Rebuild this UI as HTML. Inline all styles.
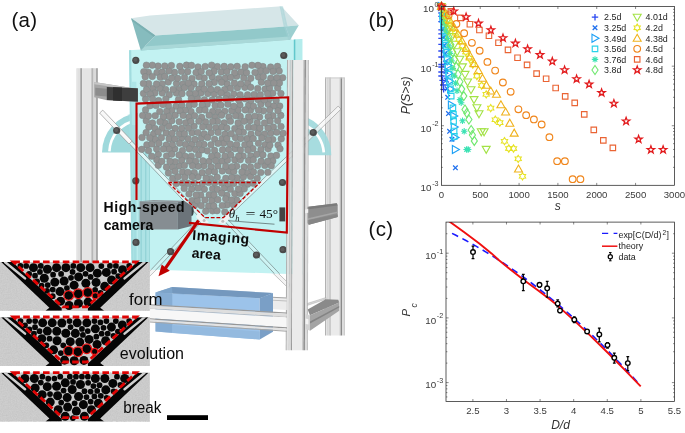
<!DOCTYPE html>
<html><head><meta charset="utf-8"><title>Figure</title>
<style>html,body{margin:0;padding:0;background:#fff}svg{display:block}</style></head>
<body>
<svg width="685" height="433" viewBox="0 0 685 433">
<rect width="685" height="433" fill="#fff"/>
<polygon points="325,77.5 325.98,77.5 325.98,335.4 325,335.4" fill="#b0b0b0"/><polygon points="325.98,77.5 327.55,77.5 327.55,335.4 325.98,335.4" fill="#e2e2e2"/><polygon points="327.55,77.5 328.33,77.5 328.33,335.4 327.55,335.4" fill="#bcbcbc"/><polygon points="328.33,77.5 329.7,77.5 329.7,335.4 328.33,335.4" fill="#d6d6d6"/><polygon points="329.7,77.5 330.68,77.5 330.68,335.4 329.7,335.4" fill="#9c9c9c"/><polygon points="330.68,77.5 339.5,77.5 339.5,335.4 330.68,335.4" fill="#ebebeb"/><polygon points="339.5,77.5 340.68,77.5 340.68,335.4 339.5,335.4" fill="#c8c8c8"/><polygon points="340.68,77.5 342.05,77.5 342.05,335.4 340.68,335.4" fill="#8a8a8a"/><polygon points="342.05,77.5 344.01,77.5 344.01,335.4 342.05,335.4" fill="#dcdcdc"/><polygon points="344.01,77.5 344.6,77.5 344.6,335.4 344.01,335.4" fill="#aaaaaa"/>
<polygon points="325,77.5 344.6,77.5 344.6,78.4 325,78.4" fill="#c8c8c8"/>
<polygon points="306.5,207 336.8,203.2 337.7,205 337.7,217 308.8,224.8 306.5,222" fill="#8e8e8e"/>
<polygon points="306.5,207 336.8,203.2 337.4,205.4 306.8,209.5" fill="#7b7b7b"/>
<polygon points="307,218.6 337.6,211.6 337.6,213 307,220.2" fill="#a6a6a6"/>
<polygon points="306.5,220.6 337.7,214.6 337.7,217 308.8,224.8 306.5,222" fill="#868686"/>
<polygon points="307,303.5 326,297.5 326,299.2 307,305.5" fill="#d8d8d8" stroke="#a0a0a0" stroke-width="0.4"/>
<polygon points="307.6,309.5 325.8,299.2 338.3,299.8 339.2,302.5 310,315.2" fill="#8a8a8a"/>
<polygon points="310,315.2 339.2,302.5 339.2,310.8 310,330.8" fill="#a4a4a4"/>
<polygon points="310,321.6 339.2,305.9 339.2,307.5 310,323.6" fill="#848484"/>
<path d="M307.5 117.8A41.3 41.3 0 0 1 331.3 155.2L307.5 155.2Z" fill="#9fd9dc" fill-opacity="0.92"/>
<path d="M307.5 126.5A33 33 0 0 1 323.8 152.4" fill="none" stroke="#fff" stroke-width="2.8"/>
<polygon points="338.13,106.1 298.53,144.7 301.47,147.7 341.07,109.1" fill="#f8f8f8" stroke="#8a8a8a" stroke-width="0.55" fill-opacity="0.7"/>
<circle cx="313.3" cy="132.5" r="3.6" fill="#4a4a4a"/><circle cx="312.8" cy="132" r="1.98" fill="#5c5c5c"/>
<polygon points="76.6,68.2 77.45,68.2 77.45,263 76.6,263" fill="#cccccc"/><polygon points="77.45,68.2 80.22,68.2 80.22,263 77.45,263" fill="#e0e0e0"/><polygon points="80.22,68.2 82.14,68.2 82.14,263 80.22,263" fill="#a2a2a2"/><polygon points="82.14,68.2 91.3,68.2 91.3,263 82.14,263" fill="#e5e5e5"/><polygon points="91.3,68.2 93.64,68.2 93.64,263 91.3,263" fill="#b6b6b6"/><polygon points="93.64,68.2 95.98,68.2 95.98,263 93.64,263" fill="#dadada"/><polygon points="95.98,68.2 97.9,68.2 97.9,263 95.98,263" fill="#a8a8a8"/>
<path d="M102 152.6A40 40 0 0 1 138 112.8L138 152.6Z" fill="#9fd9dc"/>
<path d="M109.4 151.4A32.6 32.6 0 0 1 137 120.4" fill="none" stroke="#fff" stroke-width="2.6"/>
<polygon points="174.73,246.23 146.73,274.23 149.27,276.77 177.27,248.77" fill="#f4f4f4" stroke="#8c8c8c" stroke-width="0.5"/>
<polygon points="260.74,261.29 287.74,287.59 290.26,285.01 263.26,258.71" fill="#f4f4f4" stroke="#8c8c8c" stroke-width="0.5"/>
<clipPath id="cp"><polygon points="129,50.3 302.4,39 302.4,274.4 131.4,269"/></clipPath>
<polygon points="129,50.3 302.4,39 302.4,274.4 131.4,269" fill="#c2f2f2"/>
<g clip-path="url(#cp)">
<path d="M129.5 114A40 40 0 0 1 138 112.8L138 152.6L129.5 152.6Z" fill="#92d2d5"/>
<path d="M129.5 122.6A32.6 32.6 0 0 1 137 120.4" fill="none" stroke="#e4f6f6" stroke-width="2.6"/>
<polygon points="128.8,40 131.1,40 133.8,280 131.4,280" fill="#a2dcdf"/>
<polygon points="131.5,81.7 136.4,81.7 136.6,280 133.8,280" fill="#aee6e8"/>
<polygon points="132,125 136.4,125 136.6,280 133.8,280" fill="#a0dcdf" fill-opacity="0.8"/>
<rect x="137.6" y="151.5" width="12" height="130" fill="#ade3e5"/>
<rect x="140.6" y="151.5" width="1.1" height="130" fill="#8fd0d4"/>
<rect x="145.2" y="151.5" width="1.1" height="130" fill="#8fd0d4"/>
<rect x="149" y="151.5" width="0.9" height="130" fill="#98d6d8"/>
<rect x="293.8" y="30" width="1.8" height="250" fill="#62c8cc"/>
<rect x="295.6" y="30" width="7" height="250" fill="#b4ecec"/>
<polygon points="127.7,142.04 202.1,220.14 204.7,217.66 130.3,139.56" fill="#dff6f6" stroke="#6a7878" stroke-width="0.6"/>
<polygon points="292.36,151.1 221.96,218.1 224.44,220.7 294.84,153.7" fill="#dff6f6" stroke="#6a7878" stroke-width="0.6"/>
<polygon points="202.19,215.76 148.69,272.26 151.31,274.74 204.81,218.24" fill="#cdf4f4" stroke="#687474" stroke-width="0.6"/>
<polygon points="222.2,218.74 287.7,287.54 290.3,285.06 224.8,216.26" fill="#cdf4f4" stroke="#687474" stroke-width="0.6"/>
<polygon points="198.5,212 209,222.5 203,224.5 196,217" fill="#f0f4f4"/>
<polygon points="228.5,212 218,222.5 224,224.5 231,217" fill="#f0f4f4"/>
<circle cx="204.1" cy="220.4" r="1.5" fill="#bdbdbd"/><circle cx="222.8" cy="221.3" r="1.5" fill="#bdbdbd"/>
</g>
<polygon points="99.64,113.08 129.04,143.98 132.16,141.02 102.76,110.12" fill="#f8f8f8" stroke="#7c7c7c" stroke-width="0.55"/>
<circle cx="116.7" cy="130.5" r="3.6" fill="#4a4a4a"/><circle cx="116.2" cy="130" r="1.98" fill="#5c5c5c"/>
<circle cx="135.8" cy="60.3" r="3.6" fill="#4a4a4a"/><circle cx="135.3" cy="59.8" r="1.98" fill="#5c5c5c"/>
<circle cx="283.8" cy="55.5" r="3.6" fill="#4a4a4a"/><circle cx="283.3" cy="55" r="1.98" fill="#5c5c5c"/>
<circle cx="135.8" cy="180.8" r="3.6" fill="#4a4a4a"/><circle cx="135.3" cy="180.3" r="1.98" fill="#5c5c5c"/>
<circle cx="282.5" cy="182.5" r="3.6" fill="#4a4a4a"/><circle cx="282" cy="182" r="1.98" fill="#5c5c5c"/>
<circle cx="136" cy="242.4" r="3.6" fill="#4a4a4a"/><circle cx="135.5" cy="241.9" r="1.98" fill="#5c5c5c"/>
<circle cx="283" cy="249.7" r="3.6" fill="#4a4a4a"/><circle cx="282.5" cy="249.2" r="1.98" fill="#5c5c5c"/>
<circle cx="170.6" cy="251.7" r="3.6" fill="#4a4a4a"/><circle cx="170.1" cy="251.2" r="1.98" fill="#5c5c5c"/>
<circle cx="256.5" cy="255" r="3.6" fill="#4a4a4a"/><circle cx="256" cy="254.5" r="1.98" fill="#5c5c5c"/>
<g fill="#929292" stroke="#7c8686" stroke-width="0.5"><circle cx="201.85" cy="149.9" r="3.3"/><circle cx="270.79" cy="78.26" r="3.3"/><circle cx="210.63" cy="178.61" r="3.3"/><circle cx="182.53" cy="171.98" r="3.3"/><circle cx="168.42" cy="173" r="3.3"/><circle cx="221.89" cy="161.01" r="3.3"/><circle cx="207.84" cy="93.59" r="3.3"/><circle cx="215.88" cy="127.71" r="3.3"/><circle cx="244.84" cy="144.78" r="3.3"/><circle cx="200.71" cy="195.01" r="3.3"/><circle cx="201.41" cy="137.88" r="3.3"/><circle cx="145.55" cy="99.01" r="3.3"/><circle cx="236.67" cy="76.25" r="3.3"/><circle cx="247.08" cy="138.63" r="3.3"/><circle cx="230.74" cy="66.88" r="3.3"/><circle cx="192.05" cy="132.72" r="3.3"/><circle cx="258.44" cy="143.31" r="3.3"/><circle cx="197.4" cy="98.51" r="3.3"/><circle cx="227.48" cy="160.19" r="3.3"/><circle cx="185.73" cy="122.85" r="3.3"/><circle cx="166.18" cy="132.89" r="3.3"/><circle cx="224.98" cy="156" r="3.3"/><circle cx="165.65" cy="89.49" r="3.3"/><circle cx="204.37" cy="189.24" r="3.3"/><circle cx="247.3" cy="172.87" r="3.3"/><circle cx="152.86" cy="88.48" r="3.3"/><circle cx="182.49" cy="150.62" r="3.3"/><circle cx="263.49" cy="110.87" r="3.3"/><circle cx="245.02" cy="98.78" r="3.3"/><circle cx="243.75" cy="77.78" r="3.3"/><circle cx="218.97" cy="99.35" r="3.3"/><circle cx="233.76" cy="93.98" r="3.3"/><circle cx="270.95" cy="156.07" r="3.3"/><circle cx="146.85" cy="144.9" r="3.3"/><circle cx="236.67" cy="166.21" r="3.3"/><circle cx="264.59" cy="134.04" r="3.3"/><circle cx="215.31" cy="117.22" r="3.3"/><circle cx="176.46" cy="83.61" r="3.3"/><circle cx="239.92" cy="105.08" r="3.3"/><circle cx="262.89" cy="66.59" r="3.3"/><circle cx="258.24" cy="132.89" r="3.3"/><circle cx="218.4" cy="111.69" r="3.3"/><circle cx="224.4" cy="188.02" r="3.3"/><circle cx="277.5" cy="66.42" r="3.3"/><circle cx="270.72" cy="133.29" r="3.3"/><circle cx="209.06" cy="161.3" r="3.3"/><circle cx="280.88" cy="93.48" r="3.3"/><circle cx="185.22" cy="156.29" r="3.3"/><circle cx="250.03" cy="120.84" r="3.3"/><circle cx="187.66" cy="71.65" r="3.3"/><circle cx="221.34" cy="71.97" r="3.3"/><circle cx="191.99" cy="200.65" r="3.3"/><circle cx="176.08" cy="106.27" r="3.3"/><circle cx="279.71" cy="106.09" r="3.3"/><circle cx="273.38" cy="127.03" r="3.3"/><circle cx="238.08" cy="110.25" r="3.3"/><circle cx="243.4" cy="176.87" r="3.3"/><circle cx="260.75" cy="172.57" r="3.3"/><circle cx="254.14" cy="94.47" r="3.3"/><circle cx="171.77" cy="110.45" r="3.3"/><circle cx="212.19" cy="76.94" r="3.3"/><circle cx="182.83" cy="84.01" r="3.3"/><circle cx="185.47" cy="144.44" r="3.3"/><circle cx="152.51" cy="122.93" r="3.3"/><circle cx="226.78" cy="71.58" r="3.3"/><circle cx="250.49" cy="110.27" r="3.3"/><circle cx="204.39" cy="99.8" r="3.3"/><circle cx="198.84" cy="89.12" r="3.3"/><circle cx="191.72" cy="144.34" r="3.3"/><circle cx="208.59" cy="206.04" r="3.3"/><circle cx="267.97" cy="128.07" r="3.3"/><circle cx="145.59" cy="109.91" r="3.3"/><circle cx="207.15" cy="104.16" r="3.3"/><circle cx="158.34" cy="154.35" r="3.3"/><circle cx="272.92" cy="115.74" r="3.3"/><circle cx="234.78" cy="128.46" r="3.3"/><circle cx="268.27" cy="104.33" r="3.3"/><circle cx="237.38" cy="87.77" r="3.3"/><circle cx="198.01" cy="66.93" r="3.3"/><circle cx="214.65" cy="139.31" r="3.3"/><circle cx="205.55" cy="121.89" r="3.3"/><circle cx="228.82" cy="170.89" r="3.3"/><circle cx="235.04" cy="148.67" r="3.3"/><circle cx="272.78" cy="161.06" r="3.3"/><circle cx="194.79" cy="204.97" r="3.3"/><circle cx="227.08" cy="83.85" r="3.3"/><circle cx="181.58" cy="138.13" r="3.3"/><circle cx="278.1" cy="145.1" r="3.3"/><circle cx="189.28" cy="148.83" r="3.3"/><circle cx="175.23" cy="128.41" r="3.3"/><circle cx="225.76" cy="178.23" r="3.3"/><circle cx="264.78" cy="165.47" r="3.3"/><circle cx="217.42" cy="66.61" r="3.3"/><circle cx="151.95" cy="143.91" r="3.3"/><circle cx="241.66" cy="182.86" r="3.3"/><circle cx="148.82" cy="127.1" r="3.3"/><circle cx="228.33" cy="184.11" r="3.3"/><circle cx="178.94" cy="89.49" r="3.3"/><circle cx="224.18" cy="122.91" r="3.3"/><circle cx="203.9" cy="144.42" r="3.3"/><circle cx="224.86" cy="211.96" r="3.3"/><circle cx="258.15" cy="99.8" r="3.3"/><circle cx="214.34" cy="94.04" r="3.3"/><circle cx="169.28" cy="94.73" r="3.3"/><circle cx="179.1" cy="165.93" r="3.3"/><circle cx="203.9" cy="165.86" r="3.3"/><circle cx="189.24" cy="105.44" r="3.3"/><circle cx="204.23" cy="77.96" r="3.3"/><circle cx="208.57" cy="182.54" r="3.3"/><circle cx="225.35" cy="78.07" r="3.3"/><circle cx="240.23" cy="116.36" r="3.3"/><circle cx="157.01" cy="72.51" r="3.3"/><circle cx="272.75" cy="93.19" r="3.3"/><circle cx="197.32" cy="200.6" r="3.3"/><circle cx="156.6" cy="148.89" r="3.3"/><circle cx="244.81" cy="87.36" r="3.3"/><circle cx="166.5" cy="167.13" r="3.3"/><circle cx="217.48" cy="121.23" r="3.3"/><circle cx="142.09" cy="137.45" r="3.3"/><circle cx="166.68" cy="111.23" r="3.3"/><circle cx="268.19" cy="116.64" r="3.3"/><circle cx="282.64" cy="77.7" r="3.3"/><circle cx="195.49" cy="149.39" r="3.3"/><circle cx="190.98" cy="111.51" r="3.3"/><circle cx="158.09" cy="66.05" r="3.3"/><circle cx="181.8" cy="105.12" r="3.3"/><circle cx="194.2" cy="104.36" r="3.3"/><circle cx="181.68" cy="160.25" r="3.3"/><circle cx="191.72" cy="189.14" r="3.3"/><circle cx="234.76" cy="159.88" r="3.3"/><circle cx="198.82" cy="144.02" r="3.3"/><circle cx="277.69" cy="87.94" r="3.3"/><circle cx="250.59" cy="176.48" r="3.3"/><circle cx="198.05" cy="176.84" r="3.3"/><circle cx="257.49" cy="165.76" r="3.3"/><circle cx="258.45" cy="77.02" r="3.3"/><circle cx="265.09" cy="144.68" r="3.3"/><circle cx="202.28" cy="104.72" r="3.3"/><circle cx="162.25" cy="93.05" r="3.3"/><circle cx="212.6" cy="111.62" r="3.3"/><circle cx="198.9" cy="76.79" r="3.3"/><circle cx="214.58" cy="150.4" r="3.3"/><circle cx="221.65" cy="182.91" r="3.3"/><circle cx="194.06" cy="83.99" r="3.3"/><circle cx="217.41" cy="155.53" r="3.3"/><circle cx="202.37" cy="183.61" r="3.3"/><circle cx="198.03" cy="166.24" r="3.3"/><circle cx="185.18" cy="110.22" r="3.3"/><circle cx="194.12" cy="126.37" r="3.3"/><circle cx="202.18" cy="172.64" r="3.3"/><circle cx="224.76" cy="111.25" r="3.3"/><circle cx="280.78" cy="115.42" r="3.3"/><circle cx="200.95" cy="93" r="3.3"/><circle cx="270.11" cy="121.15" r="3.3"/><circle cx="181.49" cy="71.52" r="3.3"/><circle cx="260.31" cy="94.8" r="3.3"/><circle cx="146.17" cy="132.61" r="3.3"/><circle cx="161.42" cy="137.66" r="3.3"/><circle cx="257.17" cy="178.22" r="3.3"/><circle cx="209.21" cy="194.91" r="3.3"/><circle cx="269.42" cy="98.76" r="3.3"/><circle cx="168.22" cy="82.04" r="3.3"/><circle cx="186.45" cy="65.16" r="3.3"/><circle cx="260.44" cy="70.86" r="3.3"/><circle cx="277" cy="77.69" r="3.3"/><circle cx="211.67" cy="156.29" r="3.3"/><circle cx="143.51" cy="93.48" r="3.3"/><circle cx="162.2" cy="83.93" r="3.3"/><circle cx="254.99" cy="72.45" r="3.3"/><circle cx="259.62" cy="116.96" r="3.3"/><circle cx="240.41" cy="127.39" r="3.3"/><circle cx="248.62" cy="127.18" r="3.3"/><circle cx="148.54" cy="150.62" r="3.3"/><circle cx="243.42" cy="132.3" r="3.3"/><circle cx="155.01" cy="128.51" r="3.3"/><circle cx="178.94" cy="154.94" r="3.3"/><circle cx="247.55" cy="184.21" r="3.3"/><circle cx="248.59" cy="116.82" r="3.3"/><circle cx="197.76" cy="132.43" r="3.3"/><circle cx="226.89" cy="204.93" r="3.3"/><circle cx="230.35" cy="189.32" r="3.3"/><circle cx="240.12" cy="94.77" r="3.3"/><circle cx="237.05" cy="177.87" r="3.3"/><circle cx="261.12" cy="161.16" r="3.3"/><circle cx="146.65" cy="89.42" r="3.3"/><circle cx="195.24" cy="93.44" r="3.3"/><circle cx="188.92" cy="117.14" r="3.3"/><circle cx="227.85" cy="104.3" r="3.3"/><circle cx="196.16" cy="195.07" r="3.3"/><circle cx="174.79" cy="148.93" r="3.3"/><circle cx="162.16" cy="72.16" r="3.3"/><circle cx="189.61" cy="93.5" r="3.3"/><circle cx="234.63" cy="72.81" r="3.3"/><circle cx="238.13" cy="122.91" r="3.3"/><circle cx="146.28" cy="120.75" r="3.3"/><circle cx="250.77" cy="155.84" r="3.3"/><circle cx="156.75" cy="159.73" r="3.3"/><circle cx="230.57" cy="77.38" r="3.3"/><circle cx="212.56" cy="188.75" r="3.3"/><circle cx="153.48" cy="134.13" r="3.3"/><circle cx="222.26" cy="138.49" r="3.3"/><circle cx="217.45" cy="189.38" r="3.3"/><circle cx="244.15" cy="167.04" r="3.3"/><circle cx="164.76" cy="66.03" r="3.3"/><circle cx="244.05" cy="121.21" r="3.3"/><circle cx="241.06" cy="72.04" r="3.3"/><circle cx="251.04" cy="134" r="3.3"/><circle cx="212.63" cy="121.44" r="3.3"/><circle cx="194.21" cy="172.64" r="3.3"/><circle cx="217.46" cy="89.51" r="3.3"/><circle cx="175.13" cy="161.72" r="3.3"/><circle cx="171.81" cy="120.78" r="3.3"/><circle cx="172.72" cy="178.34" r="3.3"/><circle cx="230.42" cy="88.31" r="3.3"/><circle cx="172.56" cy="167.16" r="3.3"/><circle cx="212.51" cy="210.83" r="3.3"/><circle cx="261.36" cy="82.15" r="3.3"/><circle cx="172.06" cy="133.29" r="3.3"/><circle cx="166.55" cy="155.93" r="3.3"/><circle cx="273.8" cy="106.06" r="3.3"/><circle cx="221.87" cy="127.02" r="3.3"/><circle cx="176.34" cy="93.04" r="3.3"/><circle cx="168.44" cy="105.7" r="3.3"/><circle cx="211.93" cy="200.6" r="3.3"/><circle cx="249.82" cy="144.15" r="3.3"/><circle cx="223.75" cy="143.29" r="3.3"/><circle cx="188.19" cy="138.73" r="3.3"/><circle cx="191.96" cy="78.44" r="3.3"/><circle cx="152.29" cy="65.18" r="3.3"/><circle cx="169.09" cy="138.9" r="3.3"/><circle cx="211.15" cy="132.77" r="3.3"/><circle cx="246.55" cy="72.69" r="3.3"/><circle cx="233.34" cy="204.67" r="3.3"/><circle cx="155.19" cy="139.26" r="3.3"/><circle cx="247.56" cy="94.81" r="3.3"/><circle cx="175.15" cy="115.3" r="3.3"/><circle cx="260.86" cy="104.35" r="3.3"/><circle cx="179.37" cy="133.81" r="3.3"/><circle cx="279.99" cy="148.81" r="3.3"/><circle cx="228.53" cy="149.58" r="3.3"/><circle cx="204.2" cy="133.89" r="3.3"/><circle cx="148.59" cy="83.57" r="3.3"/><circle cx="224.22" cy="66.4" r="3.3"/><circle cx="226.8" cy="195.29" r="3.3"/><circle cx="165.12" cy="122.93" r="3.3"/><circle cx="271.24" cy="165.66" r="3.3"/><circle cx="261.75" cy="137.88" r="3.3"/><circle cx="238.65" cy="99.9" r="3.3"/><circle cx="216.98" cy="210.7" r="3.3"/><circle cx="179.58" cy="143.27" r="3.3"/><circle cx="173.12" cy="89.49" r="3.3"/><circle cx="182.4" cy="183.01" r="3.3"/><circle cx="143.42" cy="83.48" r="3.3"/><circle cx="209.19" cy="127.07" r="3.3"/><circle cx="205.19" cy="66.52" r="3.3"/><circle cx="159.59" cy="88.36" r="3.3"/><circle cx="181.97" cy="93.67" r="3.3"/><circle cx="226.81" cy="94.57" r="3.3"/><circle cx="151.76" cy="156.28" r="3.3"/><circle cx="247.65" cy="82.96" r="3.3"/><circle cx="264.49" cy="123.02" r="3.3"/><circle cx="190.92" cy="87.87" r="3.3"/><circle cx="221.58" cy="115.16" r="3.3"/><circle cx="207.37" cy="150.85" r="3.3"/><circle cx="160.28" cy="77.26" r="3.3"/><circle cx="260.94" cy="149.56" r="3.3"/><circle cx="248.65" cy="105.06" r="3.3"/><circle cx="158.61" cy="100.67" r="3.3"/><circle cx="164.75" cy="76.42" r="3.3"/><circle cx="263.32" cy="76.64" r="3.3"/><circle cx="252.98" cy="148.64" r="3.3"/><circle cx="268.13" cy="148.87" r="3.3"/><circle cx="233.75" cy="183.47" r="3.3"/><circle cx="162.1" cy="128.18" r="3.3"/><circle cx="142.66" cy="115.48" r="3.3"/><circle cx="247.77" cy="150.09" r="3.3"/><circle cx="214" cy="195.01" r="3.3"/><circle cx="237.16" cy="66.37" r="3.3"/><circle cx="279.18" cy="70.97" r="3.3"/><circle cx="168.78" cy="116.36" r="3.3"/><circle cx="204.93" cy="199.96" r="3.3"/><circle cx="201.26" cy="205.59" r="3.3"/><circle cx="179.95" cy="110.95" r="3.3"/><circle cx="270.67" cy="67.06" r="3.3"/><circle cx="195.62" cy="161.23" r="3.3"/><circle cx="156.57" cy="83.99" r="3.3"/><circle cx="257.15" cy="122.79" r="3.3"/><circle cx="184.54" cy="77.43" r="3.3"/><circle cx="190.83" cy="121.5" r="3.3"/><circle cx="191.32" cy="156.21" r="3.3"/><circle cx="178.53" cy="99.55" r="3.3"/><circle cx="154.93" cy="93.02" r="3.3"/><circle cx="241.95" cy="171.99" r="3.3"/><circle cx="276.51" cy="155.4" r="3.3"/><circle cx="235.42" cy="137.63" r="3.3"/><circle cx="265.07" cy="89.13" r="3.3"/><circle cx="257.99" cy="65.4" r="3.3"/><circle cx="177.7" cy="78.37" r="3.3"/><circle cx="211.66" cy="65.19" r="3.3"/><circle cx="225" cy="134.14" r="3.3"/><circle cx="222.27" cy="171.03" r="3.3"/><circle cx="199.45" cy="110.16" r="3.3"/><circle cx="245.16" cy="66.73" r="3.3"/><circle cx="214.65" cy="183.01" r="3.3"/><circle cx="234.38" cy="83.09" r="3.3"/><circle cx="273" cy="71.4" r="3.3"/><circle cx="181.76" cy="128.36" r="3.3"/><circle cx="148.38" cy="115.94" r="3.3"/><circle cx="218.82" cy="78.45" r="3.3"/><circle cx="155.27" cy="115.75" r="3.3"/><circle cx="280.97" cy="126.47" r="3.3"/><circle cx="148.31" cy="72.23" r="3.3"/><circle cx="225.71" cy="198.84" r="3.3"/><circle cx="214.25" cy="82.43" r="3.3"/><circle cx="218.12" cy="132.39" r="3.3"/><circle cx="254.73" cy="116.21" r="3.3"/><circle cx="245.28" cy="109.88" r="3.3"/><circle cx="226.81" cy="138.7" r="3.3"/><circle cx="272.75" cy="139.56" r="3.3"/><circle cx="231.74" cy="177.4" r="3.3"/><circle cx="150.01" cy="105.74" r="3.3"/><circle cx="184.52" cy="87.6" r="3.3"/><circle cx="171.71" cy="78.09" r="3.3"/><circle cx="224.62" cy="89.6" r="3.3"/><circle cx="150.29" cy="94.2" r="3.3"/><circle cx="210.73" cy="89.35" r="3.3"/><circle cx="257.69" cy="88.5" r="3.3"/><circle cx="172.39" cy="144.74" r="3.3"/><circle cx="184.48" cy="133.79" r="3.3"/><circle cx="191.95" cy="176.77" r="3.3"/><circle cx="158.26" cy="165.34" r="3.3"/><circle cx="238.7" cy="131.95" r="3.3"/><circle cx="165.81" cy="99.02" r="3.3"/><circle cx="231.14" cy="133.74" r="3.3"/><circle cx="281.25" cy="138.85" r="3.3"/><circle cx="235.56" cy="115.73" r="3.3"/><circle cx="256.77" cy="154.37" r="3.3"/><circle cx="214.08" cy="71.15" r="3.3"/><circle cx="231.73" cy="110.63" r="3.3"/><circle cx="283.04" cy="133.24" r="3.3"/><circle cx="152.29" cy="76.47" r="3.3"/><circle cx="161.82" cy="161.41" r="3.3"/><circle cx="234.83" cy="193.68" r="3.3"/><circle cx="184.77" cy="177.15" r="3.3"/><circle cx="171.38" cy="65.56" r="3.3"/><circle cx="194.25" cy="182.93" r="3.3"/><circle cx="221.68" cy="193.14" r="3.3"/><circle cx="269.59" cy="87.93" r="3.3"/><circle cx="188.42" cy="128.16" r="3.3"/><circle cx="228.91" cy="117.06" r="3.3"/><circle cx="176.34" cy="183.53" r="3.3"/><circle cx="196.06" cy="72.5" r="3.3"/><circle cx="222.26" cy="205.49" r="3.3"/><circle cx="250.5" cy="166.89" r="3.3"/><circle cx="213.77" cy="205.9" r="3.3"/><circle cx="250.71" cy="87.36" r="3.3"/><circle cx="183.15" cy="115.45" r="3.3"/><circle cx="253.96" cy="127.43" r="3.3"/><circle cx="194.98" cy="139.42" r="3.3"/><circle cx="149.74" cy="137.85" r="3.3"/><circle cx="217.81" cy="199.63" r="3.3"/><circle cx="276.75" cy="132.19" r="3.3"/><circle cx="205.03" cy="110.03" r="3.3"/><circle cx="240.11" cy="193.43" r="3.3"/><circle cx="211.05" cy="166.91" r="3.3"/><circle cx="174.75" cy="139.03" r="3.3"/><circle cx="231.53" cy="98.56" r="3.3"/><circle cx="209.13" cy="83.65" r="3.3"/><circle cx="253.23" cy="138.56" r="3.3"/><circle cx="188.28" cy="83.01" r="3.3"/><circle cx="276.14" cy="100.38" r="3.3"/><circle cx="143.8" cy="71.71" r="3.3"/><circle cx="166.22" cy="145.06" r="3.3"/><circle cx="240.84" cy="83.86" r="3.3"/><circle cx="179.2" cy="121.69" r="3.3"/><circle cx="212.13" cy="99.97" r="3.3"/><circle cx="191.36" cy="98.66" r="3.3"/><circle cx="253.46" cy="106.2" r="3.3"/><circle cx="146.4" cy="65.22" r="3.3"/><circle cx="243.16" cy="156.07" r="3.3"/><circle cx="264.37" cy="100.05" r="3.3"/><circle cx="206.09" cy="178.08" r="3.3"/><circle cx="221.02" cy="92.93" r="3.3"/><circle cx="218" cy="143.41" r="3.3"/><circle cx="225.72" cy="166.42" r="3.3"/><circle cx="230.76" cy="154.82" r="3.3"/><circle cx="201.6" cy="117.35" r="3.3"/><circle cx="163.32" cy="116.88" r="3.3"/><circle cx="267.54" cy="93.82" r="3.3"/><circle cx="198.87" cy="121.18" r="3.3"/><circle cx="158.88" cy="143.28" r="3.3"/><circle cx="215.22" cy="105.61" r="3.3"/><circle cx="178.01" cy="176.76" r="3.3"/><circle cx="221.57" cy="82.35" r="3.3"/><circle cx="244.23" cy="188.83" r="3.3"/><circle cx="240.21" cy="159.76" r="3.3"/><circle cx="230.26" cy="144.01" r="3.3"/><circle cx="233.8" cy="171.44" r="3.3"/><circle cx="253.06" cy="183.22" r="3.3"/><circle cx="170" cy="161.41" r="3.3"/><circle cx="238.46" cy="188.99" r="3.3"/><circle cx="141.78" cy="149.37" r="3.3"/><circle cx="188.99" cy="193.94" r="3.3"/><circle cx="250.86" cy="100.38" r="3.3"/><circle cx="155.96" cy="105.54" r="3.3"/><circle cx="159.73" cy="111.52" r="3.3"/><circle cx="240.73" cy="138.59" r="3.3"/><circle cx="217.8" cy="166" r="3.3"/><circle cx="208.57" cy="171.65" r="3.3"/><circle cx="225.76" cy="98.8" r="3.3"/><circle cx="277.62" cy="120.8" r="3.3"/><circle cx="214.6" cy="171.74" r="3.3"/><circle cx="187.73" cy="172.3" r="3.3"/><circle cx="194.65" cy="115.73" r="3.3"/><circle cx="226.78" cy="128.03" r="3.3"/><circle cx="160.03" cy="121.82" r="3.3"/><circle cx="267.81" cy="172.32" r="3.3"/><circle cx="168.99" cy="149.3" r="3.3"/><circle cx="267.74" cy="83.03" r="3.3"/><circle cx="222.5" cy="149.89" r="3.3"/><circle cx="258.5" cy="110.19" r="3.3"/><circle cx="250.73" cy="78.34" r="3.3"/><circle cx="253.51" cy="171.89" r="3.3"/><circle cx="236.67" cy="200.07" r="3.3"/><circle cx="279.42" cy="83.04" r="3.3"/><circle cx="198.52" cy="155.06" r="3.3"/><circle cx="202.69" cy="126.88" r="3.3"/><circle cx="230.48" cy="121.24" r="3.3"/><circle cx="248.56" cy="160.49" r="3.3"/><circle cx="268.24" cy="139.67" r="3.3"/><circle cx="277.98" cy="110.73" r="3.3"/><circle cx="233.78" cy="106.27" r="3.3"/><circle cx="201.22" cy="71.57" r="3.3"/><circle cx="236.69" cy="144.46" r="3.3"/><circle cx="259.95" cy="128.14" r="3.3"/><circle cx="188.19" cy="183.41" r="3.3"/><circle cx="273.82" cy="83.03" r="3.3"/><circle cx="210.94" cy="144.75" r="3.3"/><circle cx="231.52" cy="200.13" r="3.3"/><circle cx="198.11" cy="188.14" r="3.3"/><circle cx="220.89" cy="105.21" r="3.3"/><circle cx="209.13" cy="115.21" r="3.3"/><circle cx="266.22" cy="70.77" r="3.3"/><circle cx="269.8" cy="145.25" r="3.3"/><circle cx="217.18" cy="177.28" r="3.3"/><circle cx="238.65" cy="155.93" r="3.3"/><circle cx="240.46" cy="150.03" r="3.3"/><circle cx="191.42" cy="65.38" r="3.3"/><circle cx="209.16" cy="72.82" r="3.3"/><circle cx="179.83" cy="66.38" r="3.3"/><circle cx="251.95" cy="65.32" r="3.3"/><circle cx="215.65" cy="160.7" r="3.3"/><circle cx="174.51" cy="72.38" r="3.3"/><circle cx="152.51" cy="98.82" r="3.3"/><circle cx="171.71" cy="154.16" r="3.3"/><circle cx="168.82" cy="126.41" r="3.3"/><circle cx="158.19" cy="132.08" r="3.3"/><circle cx="189.56" cy="161.15" r="3.3"/><circle cx="207.59" cy="137.44" r="3.3"/><circle cx="163.39" cy="149.04" r="3.3"/><circle cx="162.97" cy="104.6" r="3.3"/><circle cx="145.24" cy="76.77" r="3.3"/><circle cx="232.01" cy="166.69" r="3.3"/><circle cx="253.3" cy="159.76" r="3.3"/><circle cx="201.79" cy="83.9" r="3.3"/><circle cx="184.23" cy="188.5" r="3.3"/><circle cx="262.89" cy="154.9" r="3.3"/><circle cx="202.83" cy="160.78" r="3.3"/><circle cx="192.49" cy="165.74" r="3.3"/><circle cx="175.03" cy="171.33" r="3.3"/><circle cx="269.73" cy="109.96" r="3.3"/><circle cx="168.89" cy="71" r="3.3"/><circle cx="205.71" cy="211.13" r="3.3"/><circle cx="204.21" cy="88.97" r="3.3"/><circle cx="184.43" cy="165.49" r="3.3"/><circle cx="267.68" cy="161.39" r="3.3"/></g>
<polygon points="131.2,18.3 150,15.4 281.3,6.3 285.6,26.6 155.3,35.6" fill="#d6e6e8"/>
<polygon points="281.3,6.3 298.8,25.2 285.6,26.6" fill="#d2e4e6"/>
<polygon points="285.6,26.6 298.8,25.2 290.2,39.8" fill="#9ccfd0"/>
<polygon points="155.3,35.6 285.6,26.6 290.2,39.8 140.8,50.5" fill="#92c9ca"/>
<polygon points="143.6,46.6 289.2,36.6 290.2,39.8 140.8,50.5" fill="#a9d8d8"/>
<polygon points="131.2,18.3 155.3,35.6 140.8,50.5" fill="#86bcbe"/>
<polygon points="131.2,18.3 155.3,35.6 153.6,36.8 132,21" fill="#7bb0b2"/>
<polygon points="279.6,6.4 283,6.2 287.6,26.4 291.6,39.7 288.4,39.9 283.8,26.7" fill="#9fd0d3" fill-opacity="0.55"/>
<polygon points="287,60 288.09,60 286.81,350.3 285.7,350.3" fill="#b0b0b0"/><polygon points="288.09,60 289.83,60 288.57,350.3 286.81,350.3" fill="#e2e2e2"/><polygon points="289.83,60 290.71,60 289.46,350.3 288.57,350.3" fill="#bcbcbc"/><polygon points="290.71,60 292.23,60 291,350.3 289.46,350.3" fill="#d6d6d6"/><polygon points="292.23,60 293.32,60 292.11,350.3 291,350.3" fill="#9c9c9c"/><polygon points="293.32,60 303.13,60 302.05,350.3 292.11,350.3" fill="#ebebeb"/><polygon points="303.13,60 304.44,60 303.38,350.3 302.05,350.3" fill="#c8c8c8"/><polygon points="304.44,60 305.97,60 304.93,350.3 303.38,350.3" fill="#8a8a8a"/><polygon points="305.97,60 308.15,60 307.14,350.3 304.93,350.3" fill="#dcdcdc"/><polygon points="308.15,60 308.8,60 307.8,350.3 307.14,350.3" fill="#aaaaaa"/>
<polygon points="305.6,314 310,315.2 310,330.8 305.6,329" fill="#d2d2d2"/>
<polygon points="305.6,318.5 308.4,319.2 308.4,324.6 305.6,324" fill="#f4f4f4"/>
<polygon points="305.2,209.4 308.2,209 308.2,212.8 305.2,213.2" fill="#f2f2f2"/>
<polygon points="94.2,82 108.5,84.3 138,89 138,101.8 107,100.2 94.2,97.2" fill="#a6a6a6"/>
<polygon points="94.2,82 138,89 138,90.6 94.2,84.2" fill="#c6c6c6"/>
<polygon points="95.3,87.8 106.8,88.8 106.8,96.6 95.3,95.4" fill="#8c8c8c"/>
<polygon points="106.8,86.9 137.9,88.3 137.9,101.8 106.8,100.1" fill="#3e3e3e"/>
<polygon points="113,87.2 122,87.6 122,101 113,100.5" fill="#2f2f2f"/>
<polygon points="262,296.2 286.8,297.6 286.8,310 262,308.6" fill="#ececec"/>
<polygon points="262,296.2 286.8,297.6 286.8,298.6 262,297.2" fill="#a4a4a4"/>
<polygon points="262,299.2 286.8,300.6 286.8,301.4 262,300" fill="#bdbdbd"/>
<polygon points="172.2,287.1 273,293 259.7,298.3 155.5,292.5" fill="#7a9fc4"/>
<polygon points="155.5,292.5 259.7,298.3 259.7,339.5 155.5,331.6" fill="#9cc3ea"/>
<polygon points="155.5,292.5 172.2,287.1 172.5,333 155.5,331.6" fill="#7fa5cc" fill-opacity="0.75"/>
<polygon points="172.2,287.1 273,293 259.7,298.3 172.6,293.7" fill="#6f95ba" fill-opacity="0.6"/>
<polygon points="259.7,298.3 273,293 273,331.8 259.7,339.5" fill="#7a9fc6"/>
<polygon points="172.5,325 259.7,331.4 259.7,339.5 172.5,333" fill="#94badf"/>
<polygon points="150,304.2 286.8,312.4 286.8,313.66 150,305.4" fill="#9a9a9a"/>
<polygon points="150,305.4 286.8,313.66 286.8,316.86 150,308.43" fill="#dedede"/>
<polygon points="150,308.43 286.8,316.86 286.8,317.54 150,309.08" fill="#b6b6b6"/>
<polygon points="150,309.08 286.8,317.54 286.8,327.34 150,318.37" fill="#f7f7f7"/>
<polygon points="150,318.37 286.8,327.34 286.8,328.6 150,319.56" fill="#969696"/>
<polygon points="150,319.56 286.8,328.6 286.8,330.73 150,321.59" fill="#e3e3e3"/>
<polygon points="150,321.59 286.8,330.73 286.8,331.8 150,322.6" fill="#a6a6a6"/>
<polygon points="139.6,201.2 177.9,202.2 177.9,229.4 139.6,229.4" fill="#868d92"/>
<polygon points="139.6,201.2 153.4,200 184,200.7 177.9,202.2" fill="#90979c"/>
<polygon points="177.9,202.2 184,200.7 191.5,205.6 191.5,226 177.9,229.4" fill="#6c747a"/>
<path d="M191.3 206.4A2.4 4.8 0 0 1 191.3 216Z" fill="#3c4246"/>
<rect x="279.4" y="207.4" width="5.8" height="14" fill="#444"/>
<path d="M136.5 200V103.6L288.2 97.3L286.8 232.6L189 222.9" fill="none" stroke="#c00000" stroke-width="2.1" stroke-linejoin="miter"/>
<path d="M168.3 182.5H260L223.4 217.6H205Z" fill="none" stroke="#c00000" stroke-width="1.3" stroke-dasharray="3.8 1.8"/>
<path d="M198.6 220.4L165.5 268.2" stroke="#c00000" stroke-width="3.2" fill="none"/>
<polygon points="158.5,276.2 161.7,264.4 169.8,270.8" fill="#c00000"/>
<path d="M228.3 220.7L274.5 224.2" stroke="#222" stroke-width="0.5"/>
<g font-family='"Liberation Serif", "DejaVu Serif", serif' fill="#111"><text x="228.8" y="218.2" font-size="13" font-style="italic">θ</text><text x="235.2" y="220.6" font-size="8.5" font-style="italic">h</text><text x="245.4" y="218" font-size="12.5" textLength="10" lengthAdjust="spacingAndGlyphs">=</text><text x="259.4" y="218" font-size="12.3" textLength="18.6" lengthAdjust="spacingAndGlyphs">45°</text></g>
<g font-family='"Liberation Sans", Arial, sans-serif' font-weight="bold" font-size="14" fill="#0a0a0a"><text x="103.6" y="212.4" textLength="81" lengthAdjust="spacing">High-speed</text><text x="103.7" y="230.4" textLength="49.6" lengthAdjust="spacing">camera</text><text transform="translate(192 239.7) rotate(4.2)" textLength="57" lengthAdjust="spacing">Imaging</text><text transform="translate(191.4 257.6) rotate(4.2)" textLength="29.2" lengthAdjust="spacing">area</text></g>
<filter id="noise" x="0" y="0" width="100%" height="100%"><feTurbulence type="fractalNoise" baseFrequency="0.8" numOctaves="2" seed="3" result="t"/><feColorMatrix type="matrix" values="0 0 0 0 0.5  0 0 0 0 0.5  0 0 0 0 0.5  0.9 0.9 0.9 0 -0.95"/></filter>
<g transform="translate(0 262)">
<clipPath id="cs0"><rect x="0" y="0" width="149.8" height="48.8"/></clipPath>
<rect x="0" y="0" width="149.8" height="48.8" fill="#cfcfcf"/>
<rect x="0" y="0" width="149.8" height="48.8" fill="#888" filter="url(#noise)" opacity="0.55"/>
<g clip-path="url(#cs0)">
<polygon points="12.5,0 137.1,0 87.9,46.3 87.9,48.8 61.7,48.8 61.7,46.3" fill="#cbcbcb"/>
<polygon points="1.2,0 12.5,0 61.7,46.3 61.7,48.8 45.5,48.8 49.4,45.8" fill="#050505"/>
<polygon points="148.4,0 137.1,0 87.9,46.3 87.9,48.8 104.1,48.8 100.2,45.8" fill="#050505"/>
<path d="M5.2 0.2L25 16.4" stroke="#cecece" stroke-width="2.5" stroke-linecap="round"/>
<path d="M144.4 0.2L124.6 16.4" stroke="#cecece" stroke-width="2.5" stroke-linecap="round"/>
<g fill="#060606">
<circle cx="68.7" cy="33.4" r="4.51"/>
<circle cx="78.3" cy="31.7" r="4.51"/>
<circle cx="87.8" cy="30.5" r="4.51"/>
<circle cx="80.72" cy="5.65" r="4.51"/>
<circle cx="74.08" cy="23.17" r="4.51"/>
<circle cx="96.08" cy="20.42" r="4.51"/>
<circle cx="60.01" cy="29.57" r="4.51"/>
<circle cx="106.34" cy="10.39" r="4.51"/>
<circle cx="56.55" cy="5.65" r="4.51"/>
<circle cx="60.55" cy="39.15" r="4.51"/>
<circle cx="64.1" cy="18.97" r="4.51"/>
<circle cx="97.36" cy="11.14" r="4.51"/>
<circle cx="85.85" cy="21.19" r="4.51"/>
<circle cx="54.83" cy="20.14" r="4.51"/>
<circle cx="78.49" cy="41.39" r="4.51"/>
<circle cx="78.63" cy="14.93" r="4.51"/>
<circle cx="69.11" cy="43.55" r="4.51"/>
<circle cx="88.04" cy="40.11" r="4.51"/>
<circle cx="122.54" cy="7.64" r="4.51"/>
<circle cx="111.6" cy="17.94" r="4.51"/>
<circle cx="90.1" cy="5.65" r="4.51"/>
<circle cx="33.47" cy="5.65" r="4.51"/>
<circle cx="65.92" cy="5.65" r="4.51"/>
<circle cx="47.41" cy="7.3" r="4.51"/>
<circle cx="104.75" cy="24.38" r="4.51"/>
<circle cx="44.3" cy="16.3" r="4.51"/>
<circle cx="95.3" cy="33.8" r="2.88"/>
<circle cx="47.06" cy="28.87" r="2.88"/>
<circle cx="53.08" cy="12.64" r="2.88"/>
<circle cx="114.1" cy="9.69" r="2.88"/>
<circle cx="73.33" cy="3.9" r="2.88"/>
<circle cx="100.49" cy="30.8" r="2.88"/>
<circle cx="66.91" cy="26.01" r="2.88"/>
<circle cx="41.6" cy="23.73" r="2.88"/>
<circle cx="95.13" cy="27.9" r="2.88"/>
<circle cx="61.09" cy="11.89" r="2.88"/>
<circle cx="52.69" cy="27.59" r="2.88"/>
<circle cx="26.16" cy="3.9" r="2.88"/>
<circle cx="35.05" cy="13.67" r="2.88"/>
<circle cx="109.96" cy="3.9" r="2.88"/>
<circle cx="118.27" cy="14.06" r="2.88"/>
<circle cx="115.91" cy="3.9" r="2.88"/>
<circle cx="47.73" cy="23.1" r="2.88"/>
<circle cx="29.13" cy="11.99" r="2.88"/>
<circle cx="71.02" cy="15.81" r="2.88"/>
<circle cx="85.55" cy="11.84" r="2.88"/>
<circle cx="72.56" cy="9.92" r="2.88"/>
<circle cx="52.73" cy="34.2" r="2.88"/>
<circle cx="40.78" cy="3.9" r="2.88"/>
<circle cx="90.59" cy="14.95" r="2.88"/>
<circle cx="20.39" cy="3.9" r="2.88"/>
<circle cx="101.32" cy="4.11" r="2.88"/>
<circle cx="129.17" cy="3.9" r="2.88"/>
<circle cx="39.95" cy="9.93" r="2.88"/>
<circle cx="37.09" cy="19.49" r="2.88"/>
</g>
</g>
<path d="M13.3 -0.2H136.3L87 44.8H62.5Z" fill="none" stroke="#de0404" stroke-width="2.8" stroke-dasharray="6.6 3.3"/>
<circle cx="68.7" cy="33.4" r="4.85" fill="none" stroke="#e81010" stroke-width="1.2"/>
<circle cx="78.3" cy="31.7" r="4.85" fill="none" stroke="#e81010" stroke-width="1.2"/>
<circle cx="87.8" cy="30.5" r="4.85" fill="none" stroke="#e81010" stroke-width="1.2"/>
<circle cx="95.3" cy="33.8" r="3.1" fill="none" stroke="#e81010" stroke-width="1.2"/>
</g>
<g transform="translate(0 317.2)">
<clipPath id="cs1"><rect x="0" y="0" width="149.8" height="48.8"/></clipPath>
<rect x="0" y="0" width="149.8" height="48.8" fill="#cfcfcf"/>
<rect x="0" y="0" width="149.8" height="48.8" fill="#888" filter="url(#noise)" opacity="0.55"/>
<g clip-path="url(#cs1)">
<polygon points="12.5,0 137.1,0 87.9,46.3 87.9,48.8 61.7,48.8 61.7,46.3" fill="#cbcbcb"/>
<polygon points="1.2,0 12.5,0 61.7,46.3 61.7,48.8 45.5,48.8 49.4,45.8" fill="#050505"/>
<polygon points="148.4,0 137.1,0 87.9,46.3 87.9,48.8 104.1,48.8 100.2,45.8" fill="#050505"/>
<path d="M5.2 0.2L25 16.4" stroke="#cecece" stroke-width="2.5" stroke-linecap="round"/>
<path d="M144.4 0.2L124.6 16.4" stroke="#cecece" stroke-width="2.5" stroke-linecap="round"/>
<g fill="#060606">
<circle cx="68.5" cy="33.8" r="4.51"/>
<circle cx="77.8" cy="34.5" r="4.51"/>
<circle cx="86.7" cy="31.5" r="4.51"/>
<circle cx="77.17" cy="5.65" r="4.51"/>
<circle cx="95.35" cy="11.65" r="4.51"/>
<circle cx="74.22" cy="43.55" r="4.51"/>
<circle cx="122.34" cy="7.83" r="4.51"/>
<circle cx="105.61" cy="23.57" r="4.51"/>
<circle cx="86.83" cy="5.65" r="4.51"/>
<circle cx="64.55" cy="42.92" r="4.51"/>
<circle cx="79.78" cy="24.91" r="4.51"/>
<circle cx="65.82" cy="16.1" r="4.51"/>
<circle cx="89.05" cy="22.19" r="4.51"/>
<circle cx="83.91" cy="43.2" r="4.51"/>
<circle cx="47.37" cy="13.9" r="4.51"/>
<circle cx="56.76" cy="14" r="4.51"/>
<circle cx="111.43" cy="9.92" r="4.51"/>
<circle cx="97.06" cy="27.21" r="4.51"/>
<circle cx="57.03" cy="23.58" r="4.51"/>
<circle cx="52.24" cy="5.65" r="4.51"/>
<circle cx="70.28" cy="24.45" r="4.51"/>
<circle cx="61.86" cy="5.78" r="4.51"/>
<circle cx="42.66" cy="5.65" r="4.51"/>
<circle cx="75.33" cy="16.18" r="4.51"/>
<circle cx="53.6" cy="32.62" r="4.51"/>
<circle cx="41.76" cy="21.47" r="4.51"/>
<circle cx="94.6" cy="34.3" r="2.88"/>
<circle cx="129.11" cy="3.9" r="2.88"/>
<circle cx="103.54" cy="10.59" r="2.88"/>
<circle cx="60.84" cy="35.89" r="2.88"/>
<circle cx="29.14" cy="3.9" r="2.88"/>
<circle cx="117.91" cy="14.4" r="2.88"/>
<circle cx="115.82" cy="3.9" r="2.88"/>
<circle cx="113.4" cy="18.65" r="2.88"/>
<circle cx="82.91" cy="17.69" r="2.88"/>
<circle cx="63.27" cy="28.1" r="2.88"/>
<circle cx="35.13" cy="3.9" r="2.88"/>
<circle cx="106.4" cy="3.9" r="2.88"/>
<circle cx="39.55" cy="13.94" r="2.88"/>
<circle cx="87.76" cy="13.88" r="2.88"/>
<circle cx="100.43" cy="5.28" r="2.88"/>
<circle cx="94.48" cy="3.9" r="2.88"/>
<circle cx="101.63" cy="16.45" r="2.88"/>
<circle cx="107.67" cy="16.35" r="2.88"/>
<circle cx="24.98" cy="8.09" r="2.88"/>
<circle cx="33.95" cy="16.53" r="2.88"/>
<circle cx="29.45" cy="12.29" r="2.88"/>
<circle cx="35.03" cy="9.94" r="2.88"/>
<circle cx="81.94" cy="11.78" r="2.88"/>
<circle cx="70.55" cy="9.89" r="2.88"/>
<circle cx="69.49" cy="3.9" r="2.88"/>
<circle cx="96.36" cy="19.43" r="2.88"/>
<circle cx="49.54" cy="21.5" r="2.88"/>
<circle cx="20.51" cy="3.9" r="2.88"/>
<circle cx="46.27" cy="28.13" r="2.88"/>
</g>
</g>
<path d="M13.3 -0.2H136.3L87 44.8H62.5Z" fill="none" stroke="#de0404" stroke-width="2.8" stroke-dasharray="6.6 3.3"/>
<circle cx="68.5" cy="33.8" r="4.85" fill="none" stroke="#e81010" stroke-width="1.2"/>
<circle cx="77.8" cy="34.5" r="4.85" fill="none" stroke="#e81010" stroke-width="1.2"/>
<circle cx="86.7" cy="31.5" r="4.85" fill="none" stroke="#e81010" stroke-width="1.2"/>
<circle cx="94.6" cy="34.3" r="3.1" fill="none" stroke="#e81010" stroke-width="1.2"/>
</g>
<g transform="translate(0 372.8)">
<clipPath id="cs2"><rect x="0" y="0" width="149.8" height="48.8"/></clipPath>
<rect x="0" y="0" width="149.8" height="48.8" fill="#cfcfcf"/>
<rect x="0" y="0" width="149.8" height="48.8" fill="#888" filter="url(#noise)" opacity="0.55"/>
<g clip-path="url(#cs2)">
<polygon points="12.5,0 137.1,0 87.9,46.3 87.9,48.8 61.7,48.8 61.7,46.3" fill="#cbcbcb"/>
<polygon points="1.2,0 12.5,0 61.7,46.3 61.7,48.8 45.5,48.8 49.4,45.8" fill="#050505"/>
<polygon points="148.4,0 137.1,0 87.9,46.3 87.9,48.8 104.1,48.8 100.2,45.8" fill="#050505"/>
<path d="M5.2 0.2L25 16.4" stroke="#cecece" stroke-width="2.5" stroke-linecap="round"/>
<path d="M144.4 0.2L124.6 16.4" stroke="#cecece" stroke-width="2.5" stroke-linecap="round"/>
<g fill="#060606">
<circle cx="57.65" cy="22.94" r="4.51"/>
<circle cx="65.2" cy="43.54" r="4.51"/>
<circle cx="80.45" cy="11.68" r="4.51"/>
<circle cx="95.36" cy="5.65" r="4.51"/>
<circle cx="47.26" cy="13.84" r="4.51"/>
<circle cx="24.86" cy="5.65" r="4.51"/>
<circle cx="78.57" cy="23.66" r="4.51"/>
<circle cx="42.19" cy="21.88" r="4.51"/>
<circle cx="67.64" cy="34.31" r="4.51"/>
<circle cx="34.33" cy="5.65" r="4.51"/>
<circle cx="98.35" cy="30.4" r="4.51"/>
<circle cx="56.59" cy="13.43" r="4.51"/>
<circle cx="124.7" cy="5.65" r="4.51"/>
<circle cx="112.85" cy="10.61" r="4.51"/>
<circle cx="65.28" cy="10.02" r="4.51"/>
<circle cx="76.34" cy="38.28" r="4.51"/>
<circle cx="91.39" cy="36.96" r="4.51"/>
<circle cx="83.39" cy="31.83" r="4.51"/>
<circle cx="84.39" cy="43.55" r="4.51"/>
<circle cx="72.15" cy="16.7" r="4.51"/>
<circle cx="105.82" cy="17.08" r="4.51"/>
<circle cx="58.2" cy="36.94" r="4.51"/>
<circle cx="104.83" cy="5.65" r="4.51"/>
<circle cx="67.17" cy="24.77" r="4.51"/>
<circle cx="35.16" cy="15.26" r="4.51"/>
<circle cx="50.24" cy="29.29" r="4.51"/>
<circle cx="50.01" cy="21.26" r="2.88"/>
<circle cx="60.26" cy="3.9" r="2.88"/>
<circle cx="116.99" cy="3.9" r="2.88"/>
<circle cx="87.86" cy="3.9" r="2.88"/>
<circle cx="72.89" cy="45.3" r="2.88"/>
<circle cx="86.48" cy="24.26" r="2.88"/>
<circle cx="120.36" cy="12.1" r="2.88"/>
<circle cx="42.39" cy="3.9" r="2.88"/>
<circle cx="81.91" cy="3.9" r="2.88"/>
<circle cx="100.79" cy="23.04" r="2.88"/>
<circle cx="54.39" cy="5.8" r="2.88"/>
<circle cx="75.95" cy="3.9" r="2.88"/>
<circle cx="93.39" cy="13.28" r="2.88"/>
<circle cx="40.79" cy="9.79" r="2.88"/>
<circle cx="73.04" cy="9.08" r="2.88"/>
<circle cx="90.62" cy="18.76" r="2.88"/>
<circle cx="113.59" cy="18.47" r="2.88"/>
<circle cx="48.22" cy="5.95" r="2.88"/>
<circle cx="63.59" cy="17.72" r="2.88"/>
<circle cx="97.18" cy="18.08" r="2.88"/>
<circle cx="88.17" cy="10.05" r="2.88"/>
<circle cx="99.51" cy="12.35" r="2.88"/>
<circle cx="94.38" cy="23.6" r="2.88"/>
<circle cx="74.62" cy="30.53" r="2.88"/>
<circle cx="69.86" cy="3.9" r="2.88"/>
<circle cx="61.2" cy="29.82" r="2.88"/>
<circle cx="84.49" cy="18.43" r="2.88"/>
<circle cx="90.66" cy="28.76" r="2.88"/>
<circle cx="106.67" cy="24.98" r="2.88"/>
</g>
</g>
<path d="M13.3 -0.2H136.3L87 44.8H62.5Z" fill="none" stroke="#de0404" stroke-width="2.8" stroke-dasharray="6.6 3.3"/>
</g>
<g font-family='"Liberation Sans", Arial, sans-serif' font-size="16" fill="#0a0a0a"><text x="129" y="304.6" textLength="33.6" lengthAdjust="spacingAndGlyphs">form</text><text x="119.8" y="358.7" textLength="64.2" lengthAdjust="spacingAndGlyphs">evolution</text><text x="123.2" y="413" textLength="38.2" lengthAdjust="spacingAndGlyphs">break</text></g>
<rect x="167" y="415.2" width="41" height="4.8" fill="#000"/>
<g font-family='"Liberation Sans", Arial, sans-serif'>
<clipPath id="cb"><rect x="435.4" y="0.5999999999999996" width="245.0" height="184.70000000000002"/></clipPath>
<g clip-path="url(#cb)">
<g>
<path d="M438.3 6.5H444.7M441.5 3.3V9.7" stroke="#2a48f2" stroke-width="1.3" fill="none"/>
<path d="M438.3 13H444.7M441.5 9.8V16.2" stroke="#2a48f2" stroke-width="1.3" fill="none"/>
<path d="M438.3 16.4H444.7M441.5 13.2V19.6" stroke="#2a48f2" stroke-width="1.3" fill="none"/>
<path d="M438.3 21.6H444.7M441.5 18.4V24.8" stroke="#2a48f2" stroke-width="1.3" fill="none"/>
<path d="M438.3 29.8H444.7M441.5 26.6V33" stroke="#2a48f2" stroke-width="1.3" fill="none"/>
<path d="M438.3 33.9H444.7M441.5 30.7V37.1" stroke="#2a48f2" stroke-width="1.3" fill="none"/>
<path d="M438.3 38.3H444.7M441.5 35.1V41.5" stroke="#2a48f2" stroke-width="1.3" fill="none"/>
<path d="M438.3 44.4H444.7M441.5 41.2V47.6" stroke="#2a48f2" stroke-width="1.3" fill="none"/>
<path d="M438.3 51H444.7M441.5 47.8V54.2" stroke="#2a48f2" stroke-width="1.3" fill="none"/>
<path d="M438.3 57H444.7M441.5 53.8V60.2" stroke="#2a48f2" stroke-width="1.3" fill="none"/>
<path d="M438.3 64.5H444.7M441.5 61.3V67.7" stroke="#2a48f2" stroke-width="1.3" fill="none"/>
<path d="M438.3 67H444.7M441.5 63.8V70.2" stroke="#2a48f2" stroke-width="1.3" fill="none"/>
<path d="M438.3 72H444.7M441.5 68.8V75.2" stroke="#2a48f2" stroke-width="1.3" fill="none"/>
<path d="M438.3 76H444.7M441.5 72.8V79.2" stroke="#2a48f2" stroke-width="1.3" fill="none"/>
<path d="M439.4 80.3H445.8M442.6 77.1V83.5" stroke="#2a48f2" stroke-width="1.3" fill="none"/>
<path d="M440 85H446.4M443.2 81.8V88.2" stroke="#2a48f2" stroke-width="1.3" fill="none"/>
<path d="M440.4 89.4H446.8M443.6 86.2V92.6" stroke="#2a48f2" stroke-width="1.3" fill="none"/>
</g>
<g>
<path d="M439.1 4.2L443.7 8.8M439.1 8.8L443.7 4.2" stroke="#2070ee" stroke-width="1.3" fill="none"/>
<path d="M440.1 17.7L444.7 22.3M440.1 22.3L444.7 17.7" stroke="#2070ee" stroke-width="1.3" fill="none"/>
<path d="M440.69 26.29L445.29 30.89M440.69 30.89L445.29 26.29" stroke="#2070ee" stroke-width="1.3" fill="none"/>
<path d="M441.28 34.88L445.88 39.48M441.28 39.48L445.88 34.88" stroke="#2070ee" stroke-width="1.3" fill="none"/>
<path d="M441.87 43.47L446.47 48.07M441.87 48.07L446.47 43.47" stroke="#2070ee" stroke-width="1.3" fill="none"/>
<path d="M442.46 52.06L447.06 56.66M442.46 56.66L447.06 52.06" stroke="#2070ee" stroke-width="1.3" fill="none"/>
<path d="M443.04 60.64L447.64 65.24M443.04 65.24L447.64 60.64" stroke="#2070ee" stroke-width="1.3" fill="none"/>
<path d="M443.63 69.23L448.23 73.83M443.63 73.83L448.23 69.23" stroke="#2070ee" stroke-width="1.3" fill="none"/>
<path d="M444.22 77.82L448.82 82.42M444.22 82.42L448.82 77.82" stroke="#2070ee" stroke-width="1.3" fill="none"/>
<path d="M444.81 86.41L449.41 91.01M444.81 91.01L449.41 86.41" stroke="#2070ee" stroke-width="1.3" fill="none"/>
<path d="M445.4 95L450 99.6M445.4 99.6L450 95" stroke="#2070ee" stroke-width="1.3" fill="none"/>
<path d="M446.2 111.3L450.8 115.9M446.2 115.9L450.8 111.3" stroke="#2070ee" stroke-width="1.3" fill="none"/>
<path d="M447.3 129L451.9 133.6M447.3 133.6L451.9 129" stroke="#2070ee" stroke-width="1.3" fill="none"/>
<path d="M449.6 137L454.2 141.6M449.6 141.6L454.2 137" stroke="#2070ee" stroke-width="1.3" fill="none"/>
<path d="M453.1 165.5L457.7 170.1M453.1 170.1L457.7 165.5" stroke="#2070ee" stroke-width="1.3" fill="none"/>
</g>
<g>
<path d="M438.38 2.51L445.39 6.5L438.38 10.49Z" stroke="#1ca0f6" stroke-width="1.1" fill="none" stroke-linejoin="miter"/>
<path d="M439.98 14.01L446.99 18L439.98 21.99Z" stroke="#1ca0f6" stroke-width="1.1" fill="none" stroke-linejoin="miter"/>
<path d="M440.82 21.91L447.83 25.9L440.82 29.89Z" stroke="#1ca0f6" stroke-width="1.1" fill="none" stroke-linejoin="miter"/>
<path d="M441.66 29.81L448.68 33.8L441.66 37.79Z" stroke="#1ca0f6" stroke-width="1.1" fill="none" stroke-linejoin="miter"/>
<path d="M442.51 37.71L449.52 41.7L442.51 45.69Z" stroke="#1ca0f6" stroke-width="1.1" fill="none" stroke-linejoin="miter"/>
<path d="M443.35 45.61L450.37 49.6L443.35 53.59Z" stroke="#1ca0f6" stroke-width="1.1" fill="none" stroke-linejoin="miter"/>
<path d="M444.2 53.51L451.21 57.5L444.2 61.49Z" stroke="#1ca0f6" stroke-width="1.1" fill="none" stroke-linejoin="miter"/>
<path d="M445.04 61.41L452.06 65.4L445.04 69.39Z" stroke="#1ca0f6" stroke-width="1.1" fill="none" stroke-linejoin="miter"/>
<path d="M445.89 69.31L452.9 73.3L445.89 77.29Z" stroke="#1ca0f6" stroke-width="1.1" fill="none" stroke-linejoin="miter"/>
<path d="M446.73 77.21L453.75 81.2L446.73 85.19Z" stroke="#1ca0f6" stroke-width="1.1" fill="none" stroke-linejoin="miter"/>
<path d="M447.58 85.11L454.59 89.1L447.58 93.09Z" stroke="#1ca0f6" stroke-width="1.1" fill="none" stroke-linejoin="miter"/>
<path d="M448.38 100.91L455.39 104.9L448.38 108.89Z" stroke="#1ca0f6" stroke-width="1.1" fill="none" stroke-linejoin="miter"/>
<path d="M450.78 112.01L457.79 116L450.78 119.99Z" stroke="#1ca0f6" stroke-width="1.1" fill="none" stroke-linejoin="miter"/>
<path d="M451.28 123.01L458.29 127L451.28 130.99Z" stroke="#1ca0f6" stroke-width="1.1" fill="none" stroke-linejoin="miter"/>
<path d="M451.98 133.41L458.99 137.4L451.98 141.39Z" stroke="#1ca0f6" stroke-width="1.1" fill="none" stroke-linejoin="miter"/>
<path d="M452.38 145.51L459.39 149.5L452.38 153.49Z" stroke="#1ca0f6" stroke-width="1.1" fill="none" stroke-linejoin="miter"/>
</g>
<g>
<path d="M438.65 3.75L444.15 3.75L444.15 9.25L438.65 9.25Z" stroke="#28d2ea" stroke-width="1.15" fill="none" stroke-linejoin="miter"/>
<path d="M439.85 13.25L445.35 13.25L445.35 18.75L439.85 18.75Z" stroke="#28d2ea" stroke-width="1.15" fill="none" stroke-linejoin="miter"/>
<path d="M440.63 20.53L446.13 20.53L446.13 26.03L440.63 26.03Z" stroke="#28d2ea" stroke-width="1.15" fill="none" stroke-linejoin="miter"/>
<path d="M441.41 27.81L446.91 27.81L446.91 33.31L441.41 33.31Z" stroke="#28d2ea" stroke-width="1.15" fill="none" stroke-linejoin="miter"/>
<path d="M442.2 35.1L447.7 35.1L447.7 40.6L442.2 40.6Z" stroke="#28d2ea" stroke-width="1.15" fill="none" stroke-linejoin="miter"/>
<path d="M442.98 42.38L448.48 42.38L448.48 47.88L442.98 47.88Z" stroke="#28d2ea" stroke-width="1.15" fill="none" stroke-linejoin="miter"/>
<path d="M443.76 49.66L449.26 49.66L449.26 55.16L443.76 55.16Z" stroke="#28d2ea" stroke-width="1.15" fill="none" stroke-linejoin="miter"/>
<path d="M444.54 56.94L450.04 56.94L450.04 62.44L444.54 62.44Z" stroke="#28d2ea" stroke-width="1.15" fill="none" stroke-linejoin="miter"/>
<path d="M445.32 64.22L450.82 64.22L450.82 69.72L445.32 69.72Z" stroke="#28d2ea" stroke-width="1.15" fill="none" stroke-linejoin="miter"/>
<path d="M446.1 71.5L451.6 71.5L451.6 77L446.1 77Z" stroke="#28d2ea" stroke-width="1.15" fill="none" stroke-linejoin="miter"/>
<path d="M446.89 78.79L452.39 78.79L452.39 84.29L446.89 84.29Z" stroke="#28d2ea" stroke-width="1.15" fill="none" stroke-linejoin="miter"/>
<path d="M447.67 86.07L453.17 86.07L453.17 91.57L447.67 91.57Z" stroke="#28d2ea" stroke-width="1.15" fill="none" stroke-linejoin="miter"/>
<path d="M448.45 93.35L453.95 93.35L453.95 98.85L448.45 98.85Z" stroke="#28d2ea" stroke-width="1.15" fill="none" stroke-linejoin="miter"/>
<path d="M450.15 105.05L455.65 105.05L455.65 110.55L450.15 110.55Z" stroke="#28d2ea" stroke-width="1.15" fill="none" stroke-linejoin="miter"/>
<path d="M450.65 111.65L456.15 111.65L456.15 117.15L450.65 117.15Z" stroke="#28d2ea" stroke-width="1.15" fill="none" stroke-linejoin="miter"/>
<path d="M450.85 118.55L456.35 118.55L456.35 124.05L450.85 124.05Z" stroke="#28d2ea" stroke-width="1.15" fill="none" stroke-linejoin="miter"/>
<path d="M451.35 128.25L456.85 128.25L456.85 133.75L451.35 133.75Z" stroke="#28d2ea" stroke-width="1.15" fill="none" stroke-linejoin="miter"/>
<path d="M451.55 133.55L457.05 133.55L457.05 139.05L451.55 139.05Z" stroke="#28d2ea" stroke-width="1.15" fill="none" stroke-linejoin="miter"/>
</g>
<g>
<path d="M438.2 6.5L444.6 6.5M439.14 4.24L443.66 8.76M441.4 3.3L441.4 9.7M443.66 4.24L439.14 8.76" stroke="#3ce2b4" stroke-width="1.1" fill="none"/>
<path d="M440 16L446.4 16M440.94 13.74L445.46 18.26M443.2 12.8L443.2 19.2M445.46 13.74L440.94 18.26" stroke="#3ce2b4" stroke-width="1.1" fill="none"/>
<path d="M441.38 23.48L447.78 23.48M442.32 21.22L446.84 25.74M444.58 20.28L444.58 26.68M446.84 21.22L442.32 25.74" stroke="#3ce2b4" stroke-width="1.1" fill="none"/>
<path d="M442.76 30.96L449.16 30.96M443.7 28.7L448.22 33.22M445.96 27.76L445.96 34.16M448.22 28.7L443.7 33.22" stroke="#3ce2b4" stroke-width="1.1" fill="none"/>
<path d="M444.14 38.44L450.54 38.44M445.08 36.18L449.6 40.7M447.34 35.24L447.34 41.64M449.6 36.18L445.08 40.7" stroke="#3ce2b4" stroke-width="1.1" fill="none"/>
<path d="M445.52 45.92L451.92 45.92M446.46 43.66L450.98 48.18M448.72 42.72L448.72 49.12M450.98 43.66L446.46 48.18" stroke="#3ce2b4" stroke-width="1.1" fill="none"/>
<path d="M446.9 53.4L453.3 53.4M447.84 51.14L452.36 55.66M450.1 50.2L450.1 56.6M452.36 51.14L447.84 55.66" stroke="#3ce2b4" stroke-width="1.1" fill="none"/>
<path d="M448.28 60.88L454.68 60.88M449.22 58.62L453.74 63.14M451.48 57.68L451.48 64.08M453.74 58.62L449.22 63.14" stroke="#3ce2b4" stroke-width="1.1" fill="none"/>
<path d="M449.66 68.36L456.06 68.36M450.6 66.1L455.12 70.62M452.86 65.16L452.86 71.56M455.12 66.1L450.6 70.62" stroke="#3ce2b4" stroke-width="1.1" fill="none"/>
<path d="M451.04 75.84L457.44 75.84M451.98 73.58L456.5 78.1M454.24 72.64L454.24 79.04M456.5 73.58L451.98 78.1" stroke="#3ce2b4" stroke-width="1.1" fill="none"/>
<path d="M452.42 83.32L458.82 83.32M453.36 81.06L457.88 85.58M455.62 80.12L455.62 86.52M457.88 81.06L453.36 85.58" stroke="#3ce2b4" stroke-width="1.1" fill="none"/>
<path d="M453.8 90.8L460.2 90.8M454.74 88.54L459.26 93.06M457 87.6L457 94M459.26 88.54L454.74 93.06" stroke="#3ce2b4" stroke-width="1.1" fill="none"/>
<path d="M456.8 99.6L463.2 99.6M457.74 97.34L462.26 101.86M460 96.4L460 102.8M462.26 97.34L457.74 101.86" stroke="#3ce2b4" stroke-width="1.1" fill="none"/>
<path d="M458 102.7L464.4 102.7M458.94 100.44L463.46 104.96M461.2 99.5L461.2 105.9M463.46 100.44L458.94 104.96" stroke="#3ce2b4" stroke-width="1.1" fill="none"/>
<path d="M459.3 120.8L465.7 120.8M460.24 118.54L464.76 123.06M462.5 117.6L462.5 124M464.76 118.54L460.24 123.06" stroke="#3ce2b4" stroke-width="1.1" fill="none"/>
<path d="M461 131.3L467.4 131.3M461.94 129.04L466.46 133.56M464.2 128.1L464.2 134.5M466.46 129.04L461.94 133.56" stroke="#3ce2b4" stroke-width="1.1" fill="none"/>
<path d="M463.4 149.5L469.8 149.5M464.34 147.24L468.86 151.76M466.6 146.3L466.6 152.7M468.86 147.24L464.34 151.76" stroke="#3ce2b4" stroke-width="1.1" fill="none"/>
<path d="M465 149.5L471.4 149.5M465.94 147.24L470.46 151.76M468.2 146.3L468.2 152.7M470.46 147.24L465.94 151.76" stroke="#3ce2b4" stroke-width="1.1" fill="none"/>
</g>
<g>
<path d="M441.4 2L444.46 6.5L441.4 11L438.34 6.5Z" stroke="#70e870" stroke-width="1.1" fill="none" stroke-linejoin="miter"/>
<path d="M443.6 10.5L446.66 15L443.6 19.5L440.54 15Z" stroke="#70e870" stroke-width="1.1" fill="none" stroke-linejoin="miter"/>
<path d="M445.41 17.91L448.47 22.41L445.41 26.91L442.35 22.41Z" stroke="#70e870" stroke-width="1.1" fill="none" stroke-linejoin="miter"/>
<path d="M447.22 25.32L450.28 29.82L447.22 34.32L444.16 29.82Z" stroke="#70e870" stroke-width="1.1" fill="none" stroke-linejoin="miter"/>
<path d="M449.03 32.73L452.09 37.23L449.03 41.73L445.97 37.23Z" stroke="#70e870" stroke-width="1.1" fill="none" stroke-linejoin="miter"/>
<path d="M450.84 40.14L453.9 44.64L450.84 49.14L447.78 44.64Z" stroke="#70e870" stroke-width="1.1" fill="none" stroke-linejoin="miter"/>
<path d="M452.65 47.55L455.71 52.05L452.65 56.55L449.59 52.05Z" stroke="#70e870" stroke-width="1.1" fill="none" stroke-linejoin="miter"/>
<path d="M454.46 54.96L457.52 59.46L454.46 63.96L451.4 59.46Z" stroke="#70e870" stroke-width="1.1" fill="none" stroke-linejoin="miter"/>
<path d="M456.27 62.37L459.33 66.87L456.27 71.37L453.21 66.87Z" stroke="#70e870" stroke-width="1.1" fill="none" stroke-linejoin="miter"/>
<path d="M458.08 69.78L461.14 74.28L458.08 78.78L455.02 74.28Z" stroke="#70e870" stroke-width="1.1" fill="none" stroke-linejoin="miter"/>
<path d="M459.89 77.19L462.95 81.69L459.89 86.19L456.83 81.69Z" stroke="#70e870" stroke-width="1.1" fill="none" stroke-linejoin="miter"/>
<path d="M461.7 84.6L464.76 89.1L461.7 93.6L458.64 89.1Z" stroke="#70e870" stroke-width="1.1" fill="none" stroke-linejoin="miter"/>
<path d="M463.8 91.6L466.86 96.1L463.8 100.6L460.74 96.1Z" stroke="#70e870" stroke-width="1.1" fill="none" stroke-linejoin="miter"/>
<path d="M465 105L468.06 109.5L465 114L461.94 109.5Z" stroke="#70e870" stroke-width="1.1" fill="none" stroke-linejoin="miter"/>
<path d="M466.8 108.5L469.86 113L466.8 117.5L463.74 113Z" stroke="#70e870" stroke-width="1.1" fill="none" stroke-linejoin="miter"/>
<path d="M468.9 115L471.96 119.5L468.9 124L465.84 119.5Z" stroke="#70e870" stroke-width="1.1" fill="none" stroke-linejoin="miter"/>
<path d="M471.2 125.5L474.26 130L471.2 134.5L468.14 130Z" stroke="#70e870" stroke-width="1.1" fill="none" stroke-linejoin="miter"/>
<path d="M472.4 130.5L475.46 135L472.4 139.5L469.34 135Z" stroke="#70e870" stroke-width="1.1" fill="none" stroke-linejoin="miter"/>
<path d="M474.3 136.4L477.36 140.9L474.3 145.4L471.24 140.9Z" stroke="#70e870" stroke-width="1.1" fill="none" stroke-linejoin="miter"/>
</g>
<g>
<path d="M441.4 10.49L445.39 3.48L437.41 3.48Z" stroke="#a2e244" stroke-width="1.1" fill="none" stroke-linejoin="miter"/>
<path d="M444.2 17.99L448.19 10.98L440.21 10.98Z" stroke="#a2e244" stroke-width="1.1" fill="none" stroke-linejoin="miter"/>
<path d="M446.8 25.55L450.79 18.53L442.81 18.53Z" stroke="#a2e244" stroke-width="1.1" fill="none" stroke-linejoin="miter"/>
<path d="M449.4 33.1L453.39 26.09L445.41 26.09Z" stroke="#a2e244" stroke-width="1.1" fill="none" stroke-linejoin="miter"/>
<path d="M452 40.66L455.99 33.64L448.01 33.64Z" stroke="#a2e244" stroke-width="1.1" fill="none" stroke-linejoin="miter"/>
<path d="M454.6 48.21L458.59 41.2L450.61 41.2Z" stroke="#a2e244" stroke-width="1.1" fill="none" stroke-linejoin="miter"/>
<path d="M457.2 55.77L461.19 48.75L453.21 48.75Z" stroke="#a2e244" stroke-width="1.1" fill="none" stroke-linejoin="miter"/>
<path d="M459.8 63.32L463.79 56.31L455.81 56.31Z" stroke="#a2e244" stroke-width="1.1" fill="none" stroke-linejoin="miter"/>
<path d="M462.4 70.88L466.39 63.86L458.41 63.86Z" stroke="#a2e244" stroke-width="1.1" fill="none" stroke-linejoin="miter"/>
<path d="M465 78.43L468.99 71.42L461.01 71.42Z" stroke="#a2e244" stroke-width="1.1" fill="none" stroke-linejoin="miter"/>
<path d="M467.6 85.99L471.59 78.98L463.61 78.98Z" stroke="#a2e244" stroke-width="1.1" fill="none" stroke-linejoin="miter"/>
<path d="M471 93.69L474.99 86.68L467.01 86.68Z" stroke="#a2e244" stroke-width="1.1" fill="none" stroke-linejoin="miter"/>
<path d="M474 103.59L477.99 96.58L470.01 96.58Z" stroke="#a2e244" stroke-width="1.1" fill="none" stroke-linejoin="miter"/>
<path d="M476.9 111.79L480.89 104.78L472.91 104.78Z" stroke="#a2e244" stroke-width="1.1" fill="none" stroke-linejoin="miter"/>
<path d="M479 117.79L482.99 110.78L475.01 110.78Z" stroke="#a2e244" stroke-width="1.1" fill="none" stroke-linejoin="miter"/>
<path d="M481.3 135.79L485.29 128.78L477.31 128.78Z" stroke="#a2e244" stroke-width="1.1" fill="none" stroke-linejoin="miter"/>
<path d="M484.1 135.79L488.09 128.78L480.11 128.78Z" stroke="#a2e244" stroke-width="1.1" fill="none" stroke-linejoin="miter"/>
<path d="M486.2 153.39L490.19 146.38L482.21 146.38Z" stroke="#a2e244" stroke-width="1.1" fill="none" stroke-linejoin="miter"/>
</g>
<g>
<path d="M441.4 2.9L442.48 4.63L444.52 4.7L443.56 6.5L444.52 8.3L442.48 8.37L441.4 10.1L440.32 8.37L438.28 8.3L439.24 6.5L438.28 4.7L440.32 4.63Z" stroke="#e6e222" stroke-width="1.1" fill="none" stroke-linejoin="miter"/>
<path d="M445 10.9L446.08 12.63L448.12 12.7L447.16 14.5L448.12 16.3L446.08 16.37L445 18.1L443.92 16.37L441.88 16.3L442.84 14.5L441.88 12.7L443.92 12.63Z" stroke="#e6e222" stroke-width="1.1" fill="none" stroke-linejoin="miter"/>
<path d="M448.48 17.15L449.56 18.88L451.59 18.95L450.64 20.75L451.59 22.55L449.56 22.62L448.48 24.35L447.4 22.62L445.36 22.55L446.31 20.75L445.36 18.95L447.4 18.88Z" stroke="#e6e222" stroke-width="1.1" fill="none" stroke-linejoin="miter"/>
<path d="M451.95 23.4L453.03 25.13L455.07 25.2L454.11 27L455.07 28.8L453.03 28.87L451.95 30.6L450.87 28.87L448.83 28.8L449.79 27L448.83 25.2L450.87 25.13Z" stroke="#e6e222" stroke-width="1.1" fill="none" stroke-linejoin="miter"/>
<path d="M455.43 29.65L456.5 31.38L458.54 31.45L457.59 33.25L458.54 35.05L456.5 35.12L455.43 36.85L454.35 35.12L452.31 35.05L453.26 33.25L452.31 31.45L454.35 31.38Z" stroke="#e6e222" stroke-width="1.1" fill="none" stroke-linejoin="miter"/>
<path d="M458.9 35.9L459.98 37.63L462.02 37.7L461.06 39.5L462.02 41.3L459.98 41.37L458.9 43.1L457.82 41.37L455.78 41.3L456.74 39.5L455.78 37.7L457.82 37.63Z" stroke="#e6e222" stroke-width="1.1" fill="none" stroke-linejoin="miter"/>
<path d="M462.38 42.15L463.45 43.88L465.49 43.95L464.54 45.75L465.49 47.55L463.45 47.62L462.38 49.35L461.3 47.62L459.26 47.55L460.21 45.75L459.26 43.95L461.3 43.88Z" stroke="#e6e222" stroke-width="1.1" fill="none" stroke-linejoin="miter"/>
<path d="M465.85 48.4L466.93 50.13L468.97 50.2L468.01 52L468.97 53.8L466.93 53.87L465.85 55.6L464.77 53.87L462.73 53.8L463.69 52L462.73 50.2L464.77 50.13Z" stroke="#e6e222" stroke-width="1.1" fill="none" stroke-linejoin="miter"/>
<path d="M469.32 54.65L470.4 56.38L472.44 56.45L471.49 58.25L472.44 60.05L470.4 60.12L469.32 61.85L468.25 60.12L466.21 60.05L467.16 58.25L466.21 56.45L468.25 56.38Z" stroke="#e6e222" stroke-width="1.1" fill="none" stroke-linejoin="miter"/>
<path d="M472.8 60.9L473.88 62.63L475.92 62.7L474.96 64.5L475.92 66.3L473.88 66.37L472.8 68.1L471.72 66.37L469.68 66.3L470.64 64.5L469.68 62.7L471.72 62.63Z" stroke="#e6e222" stroke-width="1.1" fill="none" stroke-linejoin="miter"/>
<path d="M476.9 72.4L477.98 74.13L480.02 74.2L479.06 76L480.02 77.8L477.98 77.87L476.9 79.6L475.82 77.87L473.78 77.8L474.74 76L473.78 74.2L475.82 74.13Z" stroke="#e6e222" stroke-width="1.1" fill="none" stroke-linejoin="miter"/>
<path d="M481.6 81.9L482.68 83.63L484.72 83.7L483.76 85.5L484.72 87.3L482.68 87.37L481.6 89.1L480.52 87.37L478.48 87.3L479.44 85.5L478.48 83.7L480.52 83.63Z" stroke="#e6e222" stroke-width="1.1" fill="none" stroke-linejoin="miter"/>
<path d="M486.2 90.7L487.28 92.43L489.32 92.5L488.36 94.3L489.32 96.1L487.28 96.17L486.2 97.9L485.12 96.17L483.08 96.1L484.04 94.3L483.08 92.5L485.12 92.43Z" stroke="#e6e222" stroke-width="1.1" fill="none" stroke-linejoin="miter"/>
<path d="M490.7 104.5L491.78 106.23L493.82 106.3L492.86 108.1L493.82 109.9L491.78 109.97L490.7 111.7L489.62 109.97L487.58 109.9L488.54 108.1L487.58 106.3L489.62 106.23Z" stroke="#e6e222" stroke-width="1.1" fill="none" stroke-linejoin="miter"/>
<path d="M495.3 116.1L496.38 117.83L498.42 117.9L497.46 119.7L498.42 121.5L496.38 121.57L495.3 123.3L494.22 121.57L492.18 121.5L493.14 119.7L492.18 117.9L494.22 117.83Z" stroke="#e6e222" stroke-width="1.1" fill="none" stroke-linejoin="miter"/>
<path d="M499.8 119L500.88 120.73L502.92 120.8L501.96 122.6L502.92 124.4L500.88 124.47L499.8 126.2L498.72 124.47L496.68 124.4L497.64 122.6L496.68 120.8L498.72 120.73Z" stroke="#e6e222" stroke-width="1.1" fill="none" stroke-linejoin="miter"/>
<path d="M504.5 137.6L505.58 139.33L507.62 139.4L506.66 141.2L507.62 143L505.58 143.07L504.5 144.8L503.42 143.07L501.38 143L502.34 141.2L501.38 139.4L503.42 139.33Z" stroke="#e6e222" stroke-width="1.1" fill="none" stroke-linejoin="miter"/>
<path d="M508.8 144.9L509.88 146.63L511.92 146.7L510.96 148.5L511.92 150.3L509.88 150.37L508.8 152.1L507.72 150.37L505.68 150.3L506.64 148.5L505.68 146.7L507.72 146.63Z" stroke="#e6e222" stroke-width="1.1" fill="none" stroke-linejoin="miter"/>
<path d="M513.5 144.9L514.58 146.63L516.62 146.7L515.66 148.5L516.62 150.3L514.58 150.37L513.5 152.1L512.42 150.37L510.38 150.3L511.34 148.5L510.38 146.7L512.42 146.63Z" stroke="#e6e222" stroke-width="1.1" fill="none" stroke-linejoin="miter"/>
<path d="M518.2 155.2L519.28 156.93L521.32 157L520.36 158.8L521.32 160.6L519.28 160.67L518.2 162.4L517.12 160.67L515.08 160.6L516.04 158.8L515.08 157L517.12 156.93Z" stroke="#e6e222" stroke-width="1.1" fill="none" stroke-linejoin="miter"/>
<path d="M522.5 172.7L523.58 174.43L525.62 174.5L524.66 176.3L525.62 178.1L523.58 178.17L522.5 179.9L521.42 178.17L519.38 178.1L520.34 176.3L519.38 174.5L521.42 174.43Z" stroke="#e6e222" stroke-width="1.1" fill="none" stroke-linejoin="miter"/>
</g>
<g>
<path d="M441.4 2.51L445.39 9.52L437.41 9.52Z" stroke="#f0b21c" stroke-width="1.1" fill="none" stroke-linejoin="miter"/>
<path d="M445.6 9.31L449.59 16.32L441.61 16.32Z" stroke="#f0b21c" stroke-width="1.1" fill="none" stroke-linejoin="miter"/>
<path d="M449.7 16.21L453.69 23.22L445.71 23.22Z" stroke="#f0b21c" stroke-width="1.1" fill="none" stroke-linejoin="miter"/>
<path d="M453.8 23.11L457.79 30.12L449.81 30.12Z" stroke="#f0b21c" stroke-width="1.1" fill="none" stroke-linejoin="miter"/>
<path d="M457.9 30.01L461.89 37.02L453.91 37.02Z" stroke="#f0b21c" stroke-width="1.1" fill="none" stroke-linejoin="miter"/>
<path d="M461.9 36.91L465.89 43.92L457.91 43.92Z" stroke="#f0b21c" stroke-width="1.1" fill="none" stroke-linejoin="miter"/>
<path d="M466.1 44.41L470.09 51.42L462.11 51.42Z" stroke="#f0b21c" stroke-width="1.1" fill="none" stroke-linejoin="miter"/>
<path d="M470.1 52.01L474.09 59.02L466.11 59.02Z" stroke="#f0b21c" stroke-width="1.1" fill="none" stroke-linejoin="miter"/>
<path d="M474.3 59.61L478.29 66.62L470.31 66.62Z" stroke="#f0b21c" stroke-width="1.1" fill="none" stroke-linejoin="miter"/>
<path d="M478.3 66.51L482.29 73.52L474.31 73.52Z" stroke="#f0b21c" stroke-width="1.1" fill="none" stroke-linejoin="miter"/>
<path d="M482.5 74.31L486.49 81.32L478.51 81.32Z" stroke="#f0b21c" stroke-width="1.1" fill="none" stroke-linejoin="miter"/>
<path d="M486.4 81.31L490.39 88.32L482.41 88.32Z" stroke="#f0b21c" stroke-width="1.1" fill="none" stroke-linejoin="miter"/>
<path d="M490.7 87.01L494.69 94.02L486.71 94.02Z" stroke="#f0b21c" stroke-width="1.1" fill="none" stroke-linejoin="miter"/>
<path d="M496.5 90.21L500.49 97.22L492.51 97.22Z" stroke="#f0b21c" stroke-width="1.1" fill="none" stroke-linejoin="miter"/>
<path d="M500.9 100.81L504.89 107.82L496.91 107.82Z" stroke="#f0b21c" stroke-width="1.1" fill="none" stroke-linejoin="miter"/>
<path d="M505.6 108.01L509.59 115.02L501.61 115.02Z" stroke="#f0b21c" stroke-width="1.1" fill="none" stroke-linejoin="miter"/>
<path d="M509.8 119.21L513.79 126.22L505.81 126.22Z" stroke="#f0b21c" stroke-width="1.1" fill="none" stroke-linejoin="miter"/>
<path d="M514.2 129.11L518.19 136.12L510.21 136.12Z" stroke="#f0b21c" stroke-width="1.1" fill="none" stroke-linejoin="miter"/>
<path d="M518.5 165.01L522.49 172.02L514.51 172.02Z" stroke="#f0b21c" stroke-width="1.1" fill="none" stroke-linejoin="miter"/>
</g>
<g>
<circle cx="441.4" cy="6.5" r="3.35" stroke="#f0861c" stroke-width="1.15" fill="none"/>
<circle cx="448.65" cy="15.2" r="3.35" stroke="#f0861c" stroke-width="1.15" fill="none"/>
<circle cx="456.4" cy="24" r="3.35" stroke="#f0861c" stroke-width="1.15" fill="none"/>
<circle cx="464.15" cy="33.2" r="3.35" stroke="#f0861c" stroke-width="1.15" fill="none"/>
<circle cx="471.9" cy="42.8" r="3.35" stroke="#f0861c" stroke-width="1.15" fill="none"/>
<circle cx="479.65" cy="50.7" r="3.35" stroke="#f0861c" stroke-width="1.15" fill="none"/>
<circle cx="487.4" cy="61.9" r="3.35" stroke="#f0861c" stroke-width="1.15" fill="none"/>
<circle cx="495.15" cy="70.6" r="3.35" stroke="#f0861c" stroke-width="1.15" fill="none"/>
<circle cx="502.9" cy="82.5" r="3.35" stroke="#f0861c" stroke-width="1.15" fill="none"/>
<circle cx="510.65" cy="91.8" r="3.35" stroke="#f0861c" stroke-width="1.15" fill="none"/>
<circle cx="518.4" cy="109.3" r="3.35" stroke="#f0861c" stroke-width="1.15" fill="none"/>
<circle cx="526.15" cy="115.2" r="3.35" stroke="#f0861c" stroke-width="1.15" fill="none"/>
<circle cx="533.9" cy="119.4" r="3.35" stroke="#f0861c" stroke-width="1.15" fill="none"/>
<circle cx="541.65" cy="124.5" r="3.35" stroke="#f0861c" stroke-width="1.15" fill="none"/>
<circle cx="549.4" cy="137.2" r="3.35" stroke="#f0861c" stroke-width="1.15" fill="none"/>
<circle cx="557.15" cy="161.2" r="3.35" stroke="#f0861c" stroke-width="1.15" fill="none"/>
<circle cx="564.9" cy="161.2" r="3.35" stroke="#f0861c" stroke-width="1.15" fill="none"/>
<circle cx="572.65" cy="179.2" r="3.35" stroke="#f0861c" stroke-width="1.15" fill="none"/>
<circle cx="580.4" cy="179.2" r="3.35" stroke="#f0861c" stroke-width="1.15" fill="none"/>
</g>
<g>
<path d="M438.65 3.75L444.15 3.75L444.15 9.25L438.65 9.25Z" stroke="#ea6434" stroke-width="1.15" fill="none" stroke-linejoin="miter"/>
<path d="M448.08 8.65L453.58 8.65L453.58 14.15L448.08 14.15Z" stroke="#ea6434" stroke-width="1.15" fill="none" stroke-linejoin="miter"/>
<path d="M457.61 15.05L463.11 15.05L463.11 20.55L457.61 20.55Z" stroke="#ea6434" stroke-width="1.15" fill="none" stroke-linejoin="miter"/>
<path d="M467.14 21.45L472.64 21.45L472.64 26.95L467.14 26.95Z" stroke="#ea6434" stroke-width="1.15" fill="none" stroke-linejoin="miter"/>
<path d="M476.67 27.25L482.17 27.25L482.17 32.75L476.67 32.75Z" stroke="#ea6434" stroke-width="1.15" fill="none" stroke-linejoin="miter"/>
<path d="M486.2 32.95L491.7 32.95L491.7 38.45L486.2 38.45Z" stroke="#ea6434" stroke-width="1.15" fill="none" stroke-linejoin="miter"/>
<path d="M495.73 39.95L501.23 39.95L501.23 45.45L495.73 45.45Z" stroke="#ea6434" stroke-width="1.15" fill="none" stroke-linejoin="miter"/>
<path d="M505.26 47.05L510.76 47.05L510.76 52.55L505.26 52.55Z" stroke="#ea6434" stroke-width="1.15" fill="none" stroke-linejoin="miter"/>
<path d="M514.79 54.95L520.29 54.95L520.29 60.45L514.79 60.45Z" stroke="#ea6434" stroke-width="1.15" fill="none" stroke-linejoin="miter"/>
<path d="M524.32 62.15L529.82 62.15L529.82 67.65L524.32 67.65Z" stroke="#ea6434" stroke-width="1.15" fill="none" stroke-linejoin="miter"/>
<path d="M533.85 70.85L539.35 70.85L539.35 76.35L533.85 76.35Z" stroke="#ea6434" stroke-width="1.15" fill="none" stroke-linejoin="miter"/>
<path d="M543.38 75.95L548.88 75.95L548.88 81.45L543.38 81.45Z" stroke="#ea6434" stroke-width="1.15" fill="none" stroke-linejoin="miter"/>
<path d="M552.91 85.25L558.41 85.25L558.41 90.75L552.91 90.75Z" stroke="#ea6434" stroke-width="1.15" fill="none" stroke-linejoin="miter"/>
<path d="M562.44 93.55L567.94 93.55L567.94 99.05L562.44 99.05Z" stroke="#ea6434" stroke-width="1.15" fill="none" stroke-linejoin="miter"/>
<path d="M571.97 100.05L577.47 100.05L577.47 105.55L571.97 105.55Z" stroke="#ea6434" stroke-width="1.15" fill="none" stroke-linejoin="miter"/>
<path d="M581.5 111.55L587 111.55L587 117.05L581.5 117.05Z" stroke="#ea6434" stroke-width="1.15" fill="none" stroke-linejoin="miter"/>
<path d="M591.03 127.05L596.53 127.05L596.53 132.55L591.03 132.55Z" stroke="#ea6434" stroke-width="1.15" fill="none" stroke-linejoin="miter"/>
<path d="M600.56 137.55L606.06 137.55L606.06 143.05L600.56 143.05Z" stroke="#ea6434" stroke-width="1.15" fill="none" stroke-linejoin="miter"/>
<path d="M610.09 145.05L615.59 145.05L615.59 150.55L610.09 150.55Z" stroke="#ea6434" stroke-width="1.15" fill="none" stroke-linejoin="miter"/>
</g>
<g>
<path d="M441.6 2.6L442.52 5.24L445.31 5.29L443.08 6.98L443.89 9.66L441.6 8.06L439.31 9.66L440.12 6.98L437.89 5.29L440.68 5.24Z" stroke="#e21a1c" stroke-width="1.25" fill="none" stroke-linejoin="miter"/>
<path d="M453.7 7.3L454.62 9.94L457.41 9.99L455.18 11.68L455.99 14.36L453.7 12.76L451.41 14.36L452.22 11.68L449.99 9.99L452.78 9.94Z" stroke="#e21a1c" stroke-width="1.25" fill="none" stroke-linejoin="miter"/>
<path d="M466.1 13.1L467.02 15.74L469.81 15.79L467.58 17.48L468.39 20.16L466.1 18.56L463.81 20.16L464.62 17.48L462.39 15.79L465.18 15.74Z" stroke="#e21a1c" stroke-width="1.25" fill="none" stroke-linejoin="miter"/>
<path d="M478.5 19.5L479.42 22.14L482.21 22.19L479.98 23.88L480.79 26.56L478.5 24.96L476.21 26.56L477.02 23.88L474.79 22.19L477.58 22.14Z" stroke="#e21a1c" stroke-width="1.25" fill="none" stroke-linejoin="miter"/>
<path d="M490.9 26.2L491.82 28.84L494.61 28.89L492.38 30.58L493.19 33.26L490.9 31.66L488.61 33.26L489.42 30.58L487.19 28.89L489.98 28.84Z" stroke="#e21a1c" stroke-width="1.25" fill="none" stroke-linejoin="miter"/>
<path d="M503 34.1L503.92 36.74L506.71 36.79L504.48 38.48L505.29 41.16L503 39.56L500.71 41.16L501.52 38.48L499.29 36.79L502.08 36.74Z" stroke="#e21a1c" stroke-width="1.25" fill="none" stroke-linejoin="miter"/>
<path d="M515.4 39.5L516.32 42.14L519.11 42.19L516.88 43.88L517.69 46.56L515.4 44.96L513.11 46.56L513.92 43.88L511.69 42.19L514.48 42.14Z" stroke="#e21a1c" stroke-width="1.25" fill="none" stroke-linejoin="miter"/>
<path d="M527.6 45.2L528.52 47.84L531.31 47.89L529.08 49.58L529.89 52.26L527.6 50.66L525.31 52.26L526.12 49.58L523.89 47.89L526.68 47.84Z" stroke="#e21a1c" stroke-width="1.25" fill="none" stroke-linejoin="miter"/>
<path d="M540 51L540.92 53.64L543.71 53.69L541.48 55.38L542.29 58.06L540 56.46L537.71 58.06L538.52 55.38L536.29 53.69L539.08 53.64Z" stroke="#e21a1c" stroke-width="1.25" fill="none" stroke-linejoin="miter"/>
<path d="M552.3 57.5L553.22 60.14L556.01 60.19L553.78 61.88L554.59 64.56L552.3 62.96L550.01 64.56L550.82 61.88L548.59 60.19L551.38 60.14Z" stroke="#e21a1c" stroke-width="1.25" fill="none" stroke-linejoin="miter"/>
<path d="M564.6 66.1L565.52 68.74L568.31 68.79L566.08 70.48L566.89 73.16L564.6 71.56L562.31 73.16L563.12 70.48L560.89 68.79L563.68 68.74Z" stroke="#e21a1c" stroke-width="1.25" fill="none" stroke-linejoin="miter"/>
<path d="M576.6 75.1L577.52 77.74L580.31 77.79L578.08 79.48L578.89 82.16L576.6 80.56L574.31 82.16L575.12 79.48L572.89 77.79L575.68 77.74Z" stroke="#e21a1c" stroke-width="1.25" fill="none" stroke-linejoin="miter"/>
<path d="M589.1 80.4L590.02 83.04L592.81 83.09L590.58 84.78L591.39 87.46L589.1 85.86L586.81 87.46L587.62 84.78L585.39 83.09L588.18 83.04Z" stroke="#e21a1c" stroke-width="1.25" fill="none" stroke-linejoin="miter"/>
<path d="M601.6 88.9L602.52 91.54L605.31 91.59L603.08 93.28L603.89 95.96L601.6 94.36L599.31 95.96L600.12 93.28L597.89 91.59L600.68 91.54Z" stroke="#e21a1c" stroke-width="1.25" fill="none" stroke-linejoin="miter"/>
<path d="M613.9 99.6L614.82 102.24L617.61 102.29L615.38 103.98L616.19 106.66L613.9 105.06L611.61 106.66L612.42 103.98L610.19 102.29L612.98 102.24Z" stroke="#e21a1c" stroke-width="1.25" fill="none" stroke-linejoin="miter"/>
<path d="M626.1 117.3L627.02 119.94L629.81 119.99L627.58 121.68L628.39 124.36L626.1 122.76L623.81 124.36L624.62 121.68L622.39 119.99L625.18 119.94Z" stroke="#e21a1c" stroke-width="1.25" fill="none" stroke-linejoin="miter"/>
<path d="M638.6 135.4L639.52 138.04L642.31 138.09L640.08 139.78L640.89 142.46L638.6 140.86L636.31 142.46L637.12 139.78L634.89 138.09L637.68 138.04Z" stroke="#e21a1c" stroke-width="1.25" fill="none" stroke-linejoin="miter"/>
<path d="M650.9 145.8L651.82 148.44L654.61 148.49L652.38 150.18L653.19 152.86L650.9 151.26L648.61 152.86L649.42 150.18L647.19 148.49L649.98 148.44Z" stroke="#e21a1c" stroke-width="1.25" fill="none" stroke-linejoin="miter"/>
<path d="M663.1 145.8L664.02 148.44L666.81 148.49L664.58 150.18L665.39 152.86L663.1 151.26L660.81 152.86L661.62 150.18L659.39 148.49L662.18 148.44Z" stroke="#e21a1c" stroke-width="1.25" fill="none" stroke-linejoin="miter"/>
</g>
</g>
<rect x="441.4" y="6.6" width="233" height="178.7" fill="none" stroke="#262626" stroke-width="0.75"/>
<path d="M480.23 185.3v-2.4M480.23 6.6v2.4M519.07 185.3v-2.4M519.07 6.6v2.4M557.9 185.3v-2.4M557.9 6.6v2.4M596.73 185.3v-2.4M596.73 6.6v2.4M635.57 185.3v-2.4M635.57 6.6v2.4M441.4 48.24h1.4M674.4 48.24h-1.4M441.4 37.75h1.4M674.4 37.75h-1.4M441.4 30.3h1.4M674.4 30.3h-1.4M441.4 24.53h1.4M674.4 24.53h-1.4M441.4 19.81h1.4M674.4 19.81h-1.4M441.4 15.83h1.4M674.4 15.83h-1.4M441.4 12.37h1.4M674.4 12.37h-1.4M441.4 9.33h1.4M674.4 9.33h-1.4M441.4 66.17h2.6M674.4 66.17h-2.6M441.4 107.8h1.4M674.4 107.8h-1.4M441.4 97.31h1.4M674.4 97.31h-1.4M441.4 89.87h1.4M674.4 89.87h-1.4M441.4 84.1h1.4M674.4 84.1h-1.4M441.4 79.38h1.4M674.4 79.38h-1.4M441.4 75.39h1.4M674.4 75.39h-1.4M441.4 71.94h1.4M674.4 71.94h-1.4M441.4 68.89h1.4M674.4 68.89h-1.4M441.4 125.73h2.6M674.4 125.73h-2.6M441.4 167.37h1.4M674.4 167.37h-1.4M441.4 156.88h1.4M674.4 156.88h-1.4M441.4 149.44h1.4M674.4 149.44h-1.4M441.4 143.66h1.4M674.4 143.66h-1.4M441.4 138.95h1.4M674.4 138.95h-1.4M441.4 134.96h1.4M674.4 134.96h-1.4M441.4 131.51h1.4M674.4 131.51h-1.4M441.4 128.46h1.4M674.4 128.46h-1.4" stroke="#262626" stroke-width="0.55" fill="none"/>
<text x="441.4" y="198.1" font-size="9.6" fill="#3a3a3a" text-anchor="middle">0</text>
<text x="480.23" y="198.1" font-size="9.6" fill="#3a3a3a" text-anchor="middle">500</text>
<text x="519.07" y="198.1" font-size="9.6" fill="#3a3a3a" text-anchor="middle">1000</text>
<text x="557.9" y="198.1" font-size="9.6" fill="#3a3a3a" text-anchor="middle">1500</text>
<text x="596.73" y="198.1" font-size="9.6" fill="#3a3a3a" text-anchor="middle">2000</text>
<text x="635.57" y="198.1" font-size="9.6" fill="#3a3a3a" text-anchor="middle">2500</text>
<text x="674.4" y="198.1" font-size="9.6" fill="#3a3a3a" text-anchor="middle">3000</text>
<text x="433.9" y="12.4" font-size="9.8" fill="#3a3a3a" text-anchor="end">10</text>
<text x="434.6" y="7.1" font-size="7.2" fill="#3a3a3a">0</text>
<text x="431.5" y="71.97" font-size="9.8" fill="#3a3a3a" text-anchor="end">10</text>
<text x="432.2" y="66.67" font-size="7.2" fill="#3a3a3a">-1</text>
<text x="431.5" y="131.53" font-size="9.8" fill="#3a3a3a" text-anchor="end">10</text>
<text x="432.2" y="126.23" font-size="7.2" fill="#3a3a3a">-2</text>
<text x="431.5" y="191.1" font-size="9.8" fill="#3a3a3a" text-anchor="end">10</text>
<text x="432.2" y="185.8" font-size="7.2" fill="#3a3a3a">-3</text>
<text x="557.8" y="209.6" font-size="12" font-style="italic" fill="#333" text-anchor="middle">s</text>
<text transform="translate(410.2 95.3) rotate(-90)" font-size="12" font-style="italic" fill="#333" text-anchor="middle" textLength="38" lengthAdjust="spacingAndGlyphs">P(S&gt;s)</text>
<path d="M591.8 17.2H598.2M595 14V20.4" stroke="#2a48f2" stroke-width="1.3" fill="none"/>
<text x="604.1" y="20.4" font-size="8.9" fill="#1c1c1c">2.5d</text>
<path d="M637.2 21.19L641.19 14.18L633.21 14.18Z" stroke="#a2e244" stroke-width="1.1" fill="none" stroke-linejoin="miter"/>
<text x="645.6" y="20.4" font-size="8.9" fill="#1c1c1c">4.01d</text>
<path d="M592.7 25.45L597.3 30.05M592.7 30.05L597.3 25.45" stroke="#2070ee" stroke-width="1.3" fill="none"/>
<text x="604.1" y="30.95" font-size="8.9" fill="#1c1c1c">3.25d</text>
<path d="M637.2 24.15L638.28 25.88L640.32 25.95L639.36 27.75L640.32 29.55L638.28 29.62L637.2 31.35L636.12 29.62L634.08 29.55L635.04 27.75L634.08 25.95L636.12 25.88Z" stroke="#e6e222" stroke-width="1.1" fill="none" stroke-linejoin="miter"/>
<text x="645.6" y="30.95" font-size="8.9" fill="#1c1c1c">4.2d</text>
<path d="M591.98 34.31L598.99 38.3L591.98 42.29Z" stroke="#1ca0f6" stroke-width="1.1" fill="none" stroke-linejoin="miter"/>
<text x="604.1" y="41.5" font-size="8.9" fill="#1c1c1c">3.49d</text>
<path d="M637.2 34.31L641.19 41.32L633.21 41.32Z" stroke="#f0b21c" stroke-width="1.1" fill="none" stroke-linejoin="miter"/>
<text x="645.6" y="41.5" font-size="8.9" fill="#1c1c1c">4.38d</text>
<path d="M592.25 46.1L597.75 46.1L597.75 51.6L592.25 51.6Z" stroke="#28d2ea" stroke-width="1.15" fill="none" stroke-linejoin="miter"/>
<text x="604.1" y="52.05" font-size="8.9" fill="#1c1c1c">3.56d</text>
<circle cx="637.2" cy="48.85" r="3.35" stroke="#f0861c" stroke-width="1.15" fill="none"/>
<text x="645.6" y="52.05" font-size="8.9" fill="#1c1c1c">4.5d</text>
<path d="M591.8 59.4L598.2 59.4M592.74 57.14L597.26 61.66M595 56.2L595 62.6M597.26 57.14L592.74 61.66" stroke="#3ce2b4" stroke-width="1.1" fill="none"/>
<text x="604.1" y="62.6" font-size="8.9" fill="#1c1c1c">3.76d</text>
<path d="M634.45 56.65L639.95 56.65L639.95 62.15L634.45 62.15Z" stroke="#ea6434" stroke-width="1.15" fill="none" stroke-linejoin="miter"/>
<text x="645.6" y="62.6" font-size="8.9" fill="#1c1c1c">4.6d</text>
<path d="M595 65.45L598.06 69.95L595 74.45L591.94 69.95Z" stroke="#70e870" stroke-width="1.1" fill="none" stroke-linejoin="miter"/>
<text x="604.1" y="73.15" font-size="8.9" fill="#1c1c1c">3.8d</text>
<path d="M637.2 66.05L638.12 68.69L640.91 68.74L638.68 70.43L639.49 73.11L637.2 71.51L634.91 73.11L635.72 70.43L633.49 68.74L636.28 68.69Z" stroke="#e21a1c" stroke-width="1.25" fill="none" stroke-linejoin="miter"/>
<text x="645.6" y="73.15" font-size="8.9" fill="#1c1c1c">4.8d</text>
</g>
<g font-family='"Liberation Sans", Arial, sans-serif'>
<clipPath id="cc"><rect x="446.0" y="222.1" width="228.5" height="179.29999999999998"/></clipPath>
<path d="M452.05 233.4L455.41 235.07L458.77 236.79L462.13 238.53L465.49 240.32L468.85 242.15L472.21 244.01L475.57 245.91L478.93 247.85L482.29 249.82L485.65 251.83L489.01 253.89L492.37 255.97L495.73 258.1L499.09 260.26L502.45 262.47L505.81 264.71L509.17 266.98L512.53 269.3L515.89 271.65L519.25 274.04L522.61 276.47L525.97 278.94L529.33 281.44L532.69 283.99L536.05 286.57L539.41 289.18L542.77 291.84L546.13 294.53L549.49 297.26L552.85 300.03L556.21 302.84L559.57 305.68L562.93 308.56L566.29 311.48L569.65 314.44L573.01 317.44L576.37 320.47L579.73 323.54L583.09 326.65L586.45 329.8L589.81 332.98L593.17 336.2L596.53 339.46L599.89 342.76L603.25 346.09L606.61 349.47L609.97 352.88L613.33 356.33L616.69 359.81L620.05 363.34L623.41 366.9L626.77 370.5L630.13 374.14L633.49 377.81L636.85 381.52L640.21 385.27" stroke="#1a1aff" stroke-width="1.6" fill="none" stroke-dasharray="6.8 4.8" clip-path="url(#cc)"/>
<path d="M447.4 220L450.8 222.5L463.6 231.7L479.3 243.6L491.5 253.4L499 260.3L508.8 268.2L524.5 280.6L538.2 290.4L551 300.2L557 305.1L574 320.4L590 335.4L607.5 352.5L624 369.2L640.7 386.3" stroke="#f01010" stroke-width="1.9" fill="none" stroke-linejoin="round" clip-path="url(#cc)"/>
<path d="M473 246.2V258.6M471.6 246.2h2.8M471.6 258.6h2.8" stroke="#000" stroke-width="1.25" fill="none"/>
<circle cx="473" cy="252" r="2.3" fill="#fff" stroke="#000" stroke-width="1.35"/>
<path d="M523.3 274.3V290.6M521.9 274.3h2.8M521.9 290.6h2.8" stroke="#000" stroke-width="1.25" fill="none"/>
<circle cx="523.3" cy="281.3" r="2.3" fill="#fff" stroke="#000" stroke-width="1.35"/>
<path d="M539.5 283V287M538.1 283h2.8M538.1 287h2.8" stroke="#000" stroke-width="1.25" fill="none"/>
<circle cx="539.5" cy="284.8" r="2.3" fill="#fff" stroke="#000" stroke-width="1.35"/>
<path d="M547.2 281.3V297M545.8 281.3h2.8M545.8 297h2.8" stroke="#000" stroke-width="1.25" fill="none"/>
<circle cx="547.2" cy="288.3" r="2.3" fill="#fff" stroke="#000" stroke-width="1.35"/>
<path d="M557.7 299.8V306.8M556.3 299.8h2.8M556.3 306.8h2.8" stroke="#000" stroke-width="1.25" fill="none"/>
<circle cx="557.7" cy="303.6" r="2.3" fill="#fff" stroke="#000" stroke-width="1.35"/>
<path d="M560 309V312.6M558.6 309h2.8M558.6 312.6h2.8" stroke="#000" stroke-width="1.25" fill="none"/>
<circle cx="560" cy="310.6" r="2.3" fill="#fff" stroke="#000" stroke-width="1.35"/>
<path d="M574.3 316.9V322.7M572.9 316.9h2.8M572.9 322.7h2.8" stroke="#000" stroke-width="1.25" fill="none"/>
<circle cx="574.3" cy="319.7" r="2.3" fill="#fff" stroke="#000" stroke-width="1.35"/>
<path d="M587.1 329.8V333.2M585.7 329.8h2.8M585.7 333.2h2.8" stroke="#000" stroke-width="1.25" fill="none"/>
<circle cx="587.1" cy="331.4" r="2.3" fill="#fff" stroke="#000" stroke-width="1.35"/>
<path d="M599.3 328V341.9M597.9 328h2.8M597.9 341.9h2.8" stroke="#000" stroke-width="1.25" fill="none"/>
<circle cx="599.3" cy="334.4" r="2.3" fill="#fff" stroke="#000" stroke-width="1.35"/>
<path d="M607.5 342.6V348M606.1 342.6h2.8M606.1 348h2.8" stroke="#000" stroke-width="1.25" fill="none"/>
<circle cx="607.5" cy="345.1" r="2.3" fill="#fff" stroke="#000" stroke-width="1.35"/>
<path d="M614.3 353V363M612.9 353h2.8M612.9 363h2.8" stroke="#000" stroke-width="1.25" fill="none"/>
<circle cx="614.3" cy="357.8" r="2.3" fill="#fff" stroke="#000" stroke-width="1.35"/>
<path d="M627.8 356.6V370.6M626.4 356.6h2.8M626.4 370.6h2.8" stroke="#000" stroke-width="1.25" fill="none"/>
<circle cx="627.8" cy="363.1" r="2.3" fill="#fff" stroke="#000" stroke-width="1.35"/>
<rect x="446.0" y="222.1" width="228.5" height="179.3" fill="none" stroke="#262626" stroke-width="0.75"/>
<path d="M472.88 401.4v-2.4M472.88 222.1v2.4M506.48 401.4v-2.4M506.48 222.1v2.4M540.08 401.4v-2.4M540.08 222.1v2.4M573.68 401.4v-2.4M573.68 222.1v2.4M607.28 401.4v-2.4M607.28 222.1v2.4M640.88 401.4v-2.4M640.88 222.1v2.4M446 253.2h2.6M674.5 253.2h-2.6M446 233.72h1.4M674.5 233.72h-1.4M446 317.9h2.6M674.5 317.9h-2.6M446 298.42h1.4M674.5 298.42h-1.4M446 287.03h1.4M674.5 287.03h-1.4M446 278.95h1.4M674.5 278.95h-1.4M446 272.68h1.4M674.5 272.68h-1.4M446 267.55h1.4M674.5 267.55h-1.4M446 263.22h1.4M674.5 263.22h-1.4M446 259.47h1.4M674.5 259.47h-1.4M446 256.16h1.4M674.5 256.16h-1.4M446 382.6h2.6M674.5 382.6h-2.6M446 363.12h1.4M674.5 363.12h-1.4M446 351.73h1.4M674.5 351.73h-1.4M446 343.65h1.4M674.5 343.65h-1.4M446 337.38h1.4M674.5 337.38h-1.4M446 332.25h1.4M674.5 332.25h-1.4M446 327.92h1.4M674.5 327.92h-1.4M446 324.17h1.4M674.5 324.17h-1.4M446 320.86h1.4M674.5 320.86h-1.4M446 396.95h1.4M674.5 396.95h-1.4M446 392.62h1.4M674.5 392.62h-1.4M446 388.87h1.4M674.5 388.87h-1.4M446 385.56h1.4M674.5 385.56h-1.4" stroke="#262626" stroke-width="0.55" fill="none"/>
<text x="472.88" y="414.1" font-size="9.6" fill="#3a3a3a" text-anchor="middle">2.5</text>
<text x="506.48" y="414.1" font-size="9.6" fill="#3a3a3a" text-anchor="middle">3</text>
<text x="540.08" y="414.1" font-size="9.6" fill="#3a3a3a" text-anchor="middle">3.5</text>
<text x="573.68" y="414.1" font-size="9.6" fill="#3a3a3a" text-anchor="middle">4</text>
<text x="607.28" y="414.1" font-size="9.6" fill="#3a3a3a" text-anchor="middle">4.5</text>
<text x="640.88" y="414.1" font-size="9.6" fill="#3a3a3a" text-anchor="middle">5</text>
<text x="674.48" y="414.1" font-size="9.6" fill="#3a3a3a" text-anchor="middle">5.5</text>
<text x="436.2" y="259" font-size="9.8" fill="#3a3a3a" text-anchor="end">10</text>
<text x="436.8" y="253.7" font-size="7.2" fill="#3a3a3a">-1</text>
<text x="436.2" y="323.7" font-size="9.8" fill="#3a3a3a" text-anchor="end">10</text>
<text x="436.8" y="318.4" font-size="7.2" fill="#3a3a3a">-2</text>
<text x="436.2" y="388.4" font-size="9.8" fill="#3a3a3a" text-anchor="end">10</text>
<text x="436.8" y="383.1" font-size="7.2" fill="#3a3a3a">-3</text>
<text x="560.5" y="428.6" font-size="12" font-style="italic" fill="#333" text-anchor="middle">D/d</text>
<text transform="translate(410.3 316.4) rotate(-90)" font-size="11.5" font-style="italic" fill="#333">P</text>
<text transform="translate(417.3 307.6) rotate(-90)" font-size="8.5" font-style="italic" fill="#333">c</text>
<path d="M602 233.4h6.2M613.6 233.4h3.8" stroke="#1a1aff" stroke-width="1.4"/>
<text x="618.5" y="238.4" font-size="8.9" fill="#1c1c1c">exp[C(D/d)</text>
<text x="662.4" y="234.8" font-size="6.6" fill="#1c1c1c">2</text>
<text x="666.6" y="238.4" font-size="8.9" fill="#1c1c1c">]</text>
<path d="M602 246.2h15.4" stroke="#f01010" stroke-width="1.5"/>
<text x="618.5" y="249" font-size="8.9" fill="#1c1c1c">theory</text>
<path d="M610.3 252.6v8.2M609 252.6h2.6M609 260.8h2.6" stroke="#000" stroke-width="1" fill="none"/>
<circle cx="610.3" cy="256.7" r="2.1" fill="#fff" stroke="#000" stroke-width="1.2"/>
<text x="618.5" y="259.8" font-size="8.9" fill="#1c1c1c">data</text>
</g>
<g font-family='"Liberation Sans", Arial, sans-serif' font-size="20.5" fill="#111" letter-spacing="0.3"><text x="11.4" y="26.8">(a)</text><text x="368.6" y="26.8">(b)</text><text x="368.6" y="236.4">(c)</text></g>
</svg>
</body></html>
